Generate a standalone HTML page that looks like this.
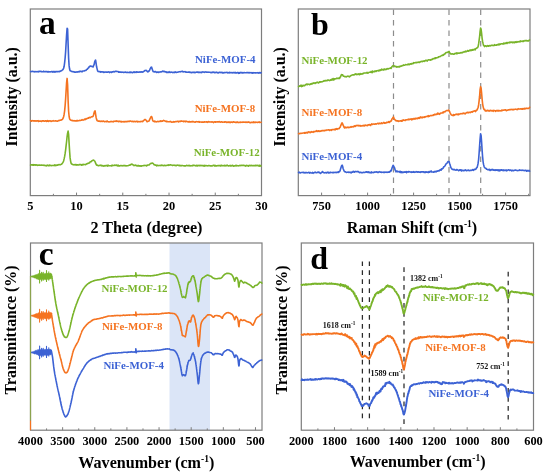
<!DOCTYPE html><html><head><meta charset="utf-8"><title>Figure</title><style>html,body{margin:0;padding:0;background:#fff;width:550px;height:475px;overflow:hidden}svg{display:block}</style></head><body><svg width="550" height="475" viewBox="0 0 550 475" font-family="'Liberation Serif', 'Times New Roman', serif" font-weight="bold">
<rect width="550" height="475" fill="#fff"/>
<rect x="169.5" y="243.0" width="40.5" height="187.2" fill="#dbe5f7"/>
<rect x="30.3" y="9" width="231.2" height="186.6" fill="none" stroke="#7d7d7d" stroke-width="1.2"/>
<rect x="298.3" y="9" width="231.7" height="186.6" fill="none" stroke="#7d7d7d" stroke-width="1.2"/>
<rect x="30.5" y="243" width="231.5" height="187.2" fill="none" stroke="#7d7d7d" stroke-width="1.2"/>
<rect x="301.3" y="243" width="232.2" height="187.2" fill="none" stroke="#7d7d7d" stroke-width="1.2"/>
<path d="M76.54,195.6 v-3.0 M122.78,195.6 v-3.0 M169.02,195.6 v-3.0 M215.26,195.6 v-3.0 M53.42,195.6 v-1.8 M99.66,195.6 v-1.8 M145.9,195.6 v-1.8 M192.14,195.6 v-1.8 M238.38,195.6 v-1.8 " stroke="#7d7d7d" stroke-width="1" fill="none"/>
<path d="M321.6,195.6 v-3.0 M367.6,195.6 v-3.0 M413.6,195.6 v-3.0 M459.6,195.6 v-3.0 M505.6,195.6 v-3.0 M344.6,195.6 v-1.8 M390.6,195.6 v-1.8 M436.6,195.6 v-1.8 M482.6,195.6 v-1.8 M528.6,195.6 v-1.8 " stroke="#7d7d7d" stroke-width="1" fill="none"/>
<path d="M62.64,430.2 v-3.0 M94.78,430.2 v-3.0 M126.92,430.2 v-3.0 M159.06,430.2 v-3.0 M191.2,430.2 v-3.0 M223.34,430.2 v-3.0 M255.48,430.2 v-3.0 M46.57,430.2 v-1.8 M78.71,430.2 v-1.8 M110.85,430.2 v-1.8 M142.99,430.2 v-1.8 M175.13,430.2 v-1.8 M207.27,430.2 v-1.8 M239.41,430.2 v-1.8 " stroke="#7d7d7d" stroke-width="1" fill="none"/>
<path d="M334.47,430.2 v-3.0 M367.64,430.2 v-3.0 M400.82,430.2 v-3.0 M433.99,430.2 v-3.0 M467.16,430.2 v-3.0 M500.33,430.2 v-3.0 M317.89,430.2 v-1.8 M351.06,430.2 v-1.8 M384.23,430.2 v-1.8 M417.4,430.2 v-1.8 M450.57,430.2 v-1.8 M483.75,430.2 v-1.8 M516.92,430.2 v-1.8 " stroke="#7d7d7d" stroke-width="1" fill="none"/>
<line x1="393.5" y1="9.6" x2="393.5" y2="195.6" stroke="#8c8c8c" stroke-width="1.2" stroke-dasharray="5.5,5"/>
<line x1="449.0" y1="9.6" x2="449.0" y2="195.6" stroke="#8c8c8c" stroke-width="1.2" stroke-dasharray="5.5,5"/>
<line x1="480.7" y1="9.6" x2="480.7" y2="195.6" stroke="#8c8c8c" stroke-width="1.2" stroke-dasharray="5.5,5"/>
<path d="M30.6,71.56 L31.1,71.64 L31.6,71.52 L32.1,71.39 L32.6,71.5 L33.1,71.39 L33.6,71.63 L34.1,71.92 L34.6,71.52 L35.1,71.5 L35.6,71.75 L36.1,71.73 L36.6,71.69 L37.1,71.47 L37.6,71.67 L38.1,71.84 L38.6,71.4 L39.1,71.6 L39.6,71.29 L40.1,71.43 L40.6,71.32 L41.1,71.68 L41.6,71.46 L42.1,71.8 L42.6,71.78 L43.1,71.71 L43.6,71.21 L44.1,71.65 L44.6,71.76 L45.1,71.8 L45.6,71.45 L46.1,71.68 L46.6,71.58 L47.1,71.62 L47.6,72.03 L48.1,71.62 L48.6,71.8 L49.1,72 L49.6,71.68 L50.1,71.78 L50.6,71.83 L51.1,71.82 L51.6,71.53 L52.1,71.81 L52.6,72.09 L53.1,71.44 L53.6,71.96 L54.1,71.79 L54.6,71.61 L55.1,72.18 L55.6,71.88 L56.1,71.42 L56.6,71.67 L57.1,71.75 L57.6,71.54 L58.1,71.68 L58.6,71.46 L59.1,71.55 L59.6,71.63 L60.1,71.06 L60.6,71.13 L61.1,70.82 L61.6,70.74 L62.1,70.17 L62.6,69.88 L63.1,69.29 L63.6,68.4 L64.1,66.54 L64.6,62.87 L65.1,58.26 L65.6,52.03 L66.1,43.27 L66.6,34.82 L67.1,28.21 L67.6,29.22 L68.1,44.09 L68.6,57.83 L69.1,65.67 L69.6,69.01 L70.1,70.66 L70.6,70.8 L71.1,71.16 L71.6,71.52 L72.1,71.58 L72.6,71.68 L73.1,71.56 L73.6,71.87 L74.1,71.83 L74.6,72.22 L75.1,72.14 L75.6,71.98 L76.1,72.12 L76.6,71.88 L77.1,72.16 L77.6,71.9 L78.1,72 L78.6,71.55 L79.1,71.87 L79.6,71.37 L80.1,71.23 L80.6,71.55 L81.1,71.35 L81.6,71.5 L82.1,71.87 L82.6,71.09 L83.1,71.02 L83.6,71.07 L84.1,71 L84.6,70.71 L85.1,70.54 L85.6,70.53 L86.1,70.23 L86.6,69.56 L87.1,69.37 L87.6,68.9 L88.1,68.09 L88.6,67.74 L89.1,66.84 L89.6,66.65 L90.1,66.1 L90.6,66 L91.1,66.04 L91.6,66.49 L92.1,66.44 L92.6,66.79 L93.1,66.89 L93.6,65.52 L94.1,64.69 L94.6,62.12 L95.1,60.78 L95.6,60.08 L96.1,63.34 L96.6,66.76 L97.1,68.89 L97.6,70.85 L98.1,71.51 L98.6,71.48 L99.1,71.61 L99.6,71.75 L100.1,71.65 L100.6,72.17 L101.1,71.85 L101.6,72 L102.1,71.86 L102.6,71.92 L103.1,71.8 L103.6,72.38 L104.1,72.08 L104.6,72.34 L105.1,72.14 L105.6,71.99 L106.1,72.08 L106.6,72.04 L107.1,72.17 L107.6,72.09 L108.1,72.11 L108.6,71.87 L109.1,72 L109.6,72.54 L110.1,72.02 L110.6,71.93 L111.1,72.22 L111.6,72.43 L112.1,71.77 L112.6,71.99 L113.1,71.83 L113.6,71.49 L114.1,71.94 L114.6,71.65 L115.1,71.56 L115.6,71.3 L116.1,71.55 L116.6,71.38 L117.1,71.57 L117.6,71.47 L118.1,71.56 L118.6,72.23 L119.1,71.9 L119.6,72.15 L120.1,72.12 L120.6,72.07 L121.1,72.08 L121.6,72.34 L122.1,72.15 L122.6,72.19 L123.1,72.23 L123.6,72.49 L124.1,72.39 L124.6,72.32 L125.1,72.12 L125.6,71.94 L126.1,72.45 L126.6,72.46 L127.1,72.22 L127.6,72.37 L128.1,72.42 L128.6,72.43 L129.1,72.45 L129.6,72.15 L130.1,72.58 L130.6,71.98 L131.1,72.44 L131.6,72.36 L132.1,72.44 L132.6,72.66 L133.1,72.57 L133.6,71.99 L134.1,71.87 L134.6,72.42 L135.1,72.02 L135.6,72.23 L136.1,72.42 L136.6,71.87 L137.1,71.76 L137.6,72.28 L138.1,72.23 L138.6,72.16 L139.1,72.21 L139.6,72.01 L140.1,71.85 L140.6,72.13 L141.1,71.94 L141.6,71.76 L142.1,72.17 L142.6,71.96 L143.1,71.92 L143.6,71.41 L144.1,71.2 L144.6,70.78 L145.1,70.44 L145.6,70.43 L146.1,70.25 L146.6,70.85 L147.1,71.23 L147.6,71.86 L148.1,71.2 L148.6,71.57 L149.1,70.96 L149.6,70.29 L150.1,68.99 L150.6,68.04 L151.1,67.33 L151.6,67.14 L152.1,68.68 L152.6,70.17 L153.1,71.51 L153.6,71.77 L154.1,71.51 L154.6,71.94 L155.1,71.71 L155.6,71.45 L156.1,72.07 L156.6,72.5 L157.1,72.22 L157.6,71.94 L158.1,71.98 L158.6,72.41 L159.1,72.16 L159.6,72.07 L160.1,71.96 L160.6,71.88 L161.1,71.92 L161.6,71.72 L162.1,71.51 L162.6,71.13 L163.1,71.45 L163.6,71.25 L164.1,71.77 L164.6,71.39 L165.1,71.79 L165.6,71.94 L166.1,71.76 L166.6,72.51 L167.1,72.51 L167.6,72.13 L168.1,72.43 L168.6,72.37 L169.1,71.72 L169.6,72.36 L170.1,72.3 L170.6,72.34 L171.1,72.08 L171.6,72.26 L172.1,72.28 L172.6,72.58 L173.1,72.39 L173.6,72.31 L174.1,72.64 L174.6,72.17 L175.1,72.18 L175.6,71.85 L176.1,72.56 L176.6,72.39 L177.1,72.33 L177.6,72.22 L178.1,72.02 L178.6,71.97 L179.1,71.78 L179.6,71.69 L180.1,71.65 L180.6,71.88 L181.1,71.6 L181.6,71.41 L182.1,71.29 L182.6,71.31 L183.1,71.86 L183.6,71.71 L184.1,71.71 L184.6,71.72 L185.1,71.64 L185.6,71.96 L186.1,72.25 L186.6,72.03 L187.1,72.13 L187.6,72.18 L188.1,72.29 L188.6,71.94 L189.1,72.27 L189.6,72.15 L190.1,72.54 L190.6,72.19 L191.1,72.49 L191.6,72.7 L192.1,72.3 L192.6,72.24 L193.1,72.41 L193.6,72.36 L194.1,72.14 L194.6,72.46 L195.1,72.79 L195.6,72.28 L196.1,72.29 L196.6,72.09 L197.1,72.38 L197.6,72.02 L198.1,72.04 L198.6,72.55 L199.1,72.05 L199.6,72.47 L200.1,72.55 L200.6,72.26 L201.1,72.31 L201.6,72.6 L202.1,72.11 L202.6,72.01 L203.1,71.84 L203.6,72.13 L204.1,72.44 L204.6,72.33 L205.1,71.91 L205.6,71.94 L206.1,72.03 L206.6,72.22 L207.1,72.12 L207.6,72.23 L208.1,72.27 L208.6,72.16 L209.1,72.24 L209.6,72.32 L210.1,72.28 L210.6,72.43 L211.1,72.76 L211.6,72.5 L212.1,72.4 L212.6,72.04 L213.1,72.51 L213.6,72.01 L214.1,72.15 L214.6,72.66 L215.1,72.64 L215.6,72.47 L216.1,72.14 L216.6,72.44 L217.1,72.39 L217.6,72.69 L218.1,73.05 L218.6,72.61 L219.1,72.4 L219.6,72.32 L220.1,72.58 L220.6,72.55 L221.1,72.35 L221.6,72.63 L222.1,72.36 L222.6,72.86 L223.1,72.85 L223.6,72.86 L224.1,72.53 L224.6,72.75 L225.1,72.61 L225.6,72.56 L226.1,72.57 L226.6,72.37 L227.1,72.34 L227.6,72.83 L228.1,72.62 L228.6,72.71 L229.1,72.89 L229.6,72.29 L230.1,72.51 L230.6,72.72 L231.1,72.77 L231.6,72.61 L232.1,72.92 L232.6,72.74 L233.1,72.43 L233.6,72.5 L234.1,72.88 L234.6,72.81 L235.1,72.3 L235.6,73.01 L236.1,72.85 L236.6,73.02 L237.1,72.64 L237.6,72.67 L238.1,72.49 L238.6,73.3 L239.1,72.7 L239.6,73.1 L240.1,72.61 L240.6,72.79 L241.1,72.39 L241.6,72.68 L242.1,72.98 L242.6,72.49 L243.1,73.01 L243.6,72.85 L244.1,72.55 L244.6,72.67 L245.1,72.68 L245.6,72.78 L246.1,72.67 L246.6,72.61 L247.1,72.73 L247.6,72.57 L248.1,72.52 L248.6,72.8 L249.1,73 L249.6,72.48 L250.1,72.82 L250.6,72.68 L251.1,72.61 L251.6,73.01 L252.1,72.72 L252.6,73.16 L253.1,72.67 L253.6,72.93 L254.1,72.79 L254.6,72.68 L255.1,72.98 L255.6,72.82 L256.1,72.99 L256.6,72.85 L257.1,72.62 L257.6,72.84 L258.1,72.88 L258.6,73.08 L259.1,72.68 L259.6,72.87 L260.1,72.5 L260.6,73.03 L261.1,72.65" stroke="#3c62d4" stroke-width="1.6" fill="none" stroke-linejoin="round" stroke-linecap="round"/>
<path d="M30.6,120.56 L31.1,120.96 L31.6,121.22 L32.1,120.65 L32.6,120.75 L33.1,120.83 L33.6,120.75 L34.1,121.09 L34.6,120.84 L35.1,120.86 L35.6,121.16 L36.1,120.87 L36.6,121.13 L37.1,120.83 L37.6,120.78 L38.1,120.65 L38.6,121.47 L39.1,121 L39.6,121.13 L40.1,121.07 L40.6,121.12 L41.1,121.1 L41.6,121.51 L42.1,120.87 L42.6,120.76 L43.1,120.88 L43.6,120.82 L44.1,121.28 L44.6,121.3 L45.1,120.91 L45.6,120.82 L46.1,121.05 L46.6,121.44 L47.1,120.51 L47.6,121.25 L48.1,120.9 L48.6,121.36 L49.1,120.9 L49.6,121.07 L50.1,120.8 L50.6,120.91 L51.1,121.43 L51.6,121.3 L52.1,121.03 L52.6,120.92 L53.1,120.68 L53.6,121 L54.1,121.07 L54.6,121.04 L55.1,121.02 L55.6,120.76 L56.1,120.96 L56.6,120.93 L57.1,121.17 L57.6,121.25 L58.1,120.75 L58.6,120.54 L59.1,120.61 L59.6,120.39 L60.1,120.25 L60.6,120.26 L61.1,119.86 L61.6,119.99 L62.1,119.51 L62.6,119.1 L63.1,118.21 L63.6,116.75 L64.1,114.47 L64.6,111.08 L65.1,105.83 L65.6,99.1 L66.1,90.86 L66.6,82.59 L67.1,78.42 L67.6,84.79 L68.1,100.21 L68.6,111.24 L69.1,116.27 L69.6,118.87 L70.1,119.71 L70.6,120.06 L71.1,120.25 L71.6,120.43 L72.1,120.42 L72.6,120.66 L73.1,120.66 L73.6,120.85 L74.1,120.6 L74.6,120.94 L75.1,120.92 L75.6,120.84 L76.1,120.75 L76.6,120.93 L77.1,120.41 L77.6,120.83 L78.1,120.73 L78.6,120.68 L79.1,120.63 L79.6,120.33 L80.1,120.34 L80.6,120.44 L81.1,120.3 L81.6,120.14 L82.1,119.66 L82.6,120.03 L83.1,120.08 L83.6,119.95 L84.1,119.67 L84.6,119.16 L85.1,119.59 L85.6,119.21 L86.1,118.53 L86.6,119 L87.1,118.39 L87.6,118.21 L88.1,118.08 L88.6,118.19 L89.1,117.47 L89.6,117.39 L90.1,117.61 L90.6,117.46 L91.1,116.95 L91.6,116.82 L92.1,116.71 L92.6,116.76 L93.1,116.29 L93.6,114.8 L94.1,112.73 L94.6,111.17 L95.1,110.87 L95.6,114.07 L96.1,117.4 L96.6,119.42 L97.1,120.58 L97.6,120.9 L98.1,120.97 L98.6,121.24 L99.1,121.03 L99.6,120.96 L100.1,121.51 L100.6,121.4 L101.1,121.5 L101.6,121.08 L102.1,121.39 L102.6,121.36 L103.1,121.31 L103.6,121.02 L104.1,121.45 L104.6,121.73 L105.1,121.62 L105.6,121.41 L106.1,121.55 L106.6,121.72 L107.1,120.95 L107.6,121.54 L108.1,121.69 L108.6,121.72 L109.1,121.95 L109.6,121.82 L110.1,121.64 L110.6,121.63 L111.1,121.73 L111.6,121.42 L112.1,121.5 L112.6,121.67 L113.1,121.86 L113.6,121.33 L114.1,121.27 L114.6,121.24 L115.1,121.41 L115.6,121.05 L116.1,121.37 L116.6,120.87 L117.1,121.12 L117.6,121.21 L118.1,121.51 L118.6,121.65 L119.1,121.15 L119.6,121.33 L120.1,121.64 L120.6,121.45 L121.1,121.28 L121.6,121.85 L122.1,121.74 L122.6,121.75 L123.1,121.54 L123.6,121.87 L124.1,121.6 L124.6,121.89 L125.1,121.44 L125.6,121.45 L126.1,121.67 L126.6,121.45 L127.1,121.72 L127.6,121.59 L128.1,121.27 L128.6,121.41 L129.1,121.22 L129.6,121.4 L130.1,120.97 L130.6,120.94 L131.1,121.28 L131.6,121.56 L132.1,121.59 L132.6,121.27 L133.1,121.4 L133.6,121.78 L134.1,121.49 L134.6,121.36 L135.1,121.64 L135.6,121.74 L136.1,121.48 L136.6,121.31 L137.1,121.37 L137.6,121.83 L138.1,121.52 L138.6,121.66 L139.1,121.73 L139.6,121.81 L140.1,121.59 L140.6,121.76 L141.1,121.43 L141.6,121.51 L142.1,121.28 L142.6,121.6 L143.1,121.08 L143.6,120.52 L144.1,120.09 L144.6,119.61 L145.1,119.65 L145.6,119.58 L146.1,120.31 L146.6,120.9 L147.1,121.78 L147.6,121.5 L148.1,121.18 L148.6,121.11 L149.1,120.93 L149.6,119.67 L150.1,118.58 L150.6,117.69 L151.1,116.5 L151.6,116.53 L152.1,117.86 L152.6,120.05 L153.1,121.08 L153.6,121.37 L154.1,121.63 L154.6,121.13 L155.1,121.77 L155.6,121.62 L156.1,121.78 L156.6,121.84 L157.1,121.62 L157.6,121.32 L158.1,121.75 L158.6,121.48 L159.1,121.52 L159.6,121.38 L160.1,121.34 L160.6,120.77 L161.1,121.39 L161.6,121.01 L162.1,121.03 L162.6,121.1 L163.1,120.64 L163.6,120.32 L164.1,120.67 L164.6,120.77 L165.1,121.1 L165.6,121.38 L166.1,121.05 L166.6,121.66 L167.1,121.33 L167.6,121.77 L168.1,121.72 L168.6,121.7 L169.1,121.77 L169.6,121.67 L170.1,121.66 L170.6,121.43 L171.1,121.79 L171.6,122.2 L172.1,122.23 L172.6,122.08 L173.1,121.93 L173.6,121.61 L174.1,122.06 L174.6,121.71 L175.1,121.69 L175.6,121.61 L176.1,121.66 L176.6,121.5 L177.1,121.54 L177.6,121.27 L178.1,121.37 L178.6,121.9 L179.1,121.33 L179.6,121.24 L180.1,121.35 L180.6,121.34 L181.1,120.91 L181.6,121.09 L182.1,121.33 L182.6,121.2 L183.1,121.2 L183.6,121.56 L184.1,121.12 L184.6,121.35 L185.1,121.28 L185.6,121.78 L186.1,121.08 L186.6,121.42 L187.1,121.5 L187.6,121.81 L188.1,121.84 L188.6,122.05 L189.1,121.43 L189.6,121.97 L190.1,121.76 L190.6,121.7 L191.1,121.99 L191.6,121.68 L192.1,121.44 L192.6,121.83 L193.1,121.59 L193.6,121.78 L194.1,122.01 L194.6,122 L195.1,122.29 L195.6,121.9 L196.1,121.61 L196.6,121.79 L197.1,121.76 L197.6,121.69 L198.1,122.06 L198.6,121.83 L199.1,121.54 L199.6,122.13 L200.1,121.95 L200.6,122.06 L201.1,122.01 L201.6,122.13 L202.1,122 L202.6,122.27 L203.1,122.09 L203.6,122.09 L204.1,122.09 L204.6,121.69 L205.1,121.97 L205.6,121.95 L206.1,122.06 L206.6,121.72 L207.1,122.38 L207.6,122.05 L208.1,121.76 L208.6,121.65 L209.1,121.97 L209.6,122.01 L210.1,121.88 L210.6,122.06 L211.1,121.9 L211.6,122.17 L212.1,121.89 L212.6,122.04 L213.1,122.27 L213.6,122.62 L214.1,121.84 L214.6,121.96 L215.1,121.88 L215.6,122.24 L216.1,121.82 L216.6,121.97 L217.1,122.07 L217.6,121.86 L218.1,121.87 L218.6,121.98 L219.1,121.62 L219.6,121.77 L220.1,122 L220.6,122.13 L221.1,122.05 L221.6,121.71 L222.1,122 L222.6,122.28 L223.1,122.23 L223.6,122.09 L224.1,121.92 L224.6,122.25 L225.1,121.99 L225.6,121.86 L226.1,121.94 L226.6,122.44 L227.1,122.17 L227.6,122.38 L228.1,122.03 L228.6,122.34 L229.1,122 L229.6,122.1 L230.1,122.69 L230.6,122.31 L231.1,122.04 L231.6,122.13 L232.1,122.22 L232.6,122.42 L233.1,122.05 L233.6,121.77 L234.1,122.1 L234.6,122.17 L235.1,122.19 L235.6,122.46 L236.1,122.24 L236.6,122.35 L237.1,121.93 L237.6,122.37 L238.1,122.64 L238.6,122.35 L239.1,122.24 L239.6,122.22 L240.1,122.58 L240.6,121.99 L241.1,122.17 L241.6,122.3 L242.1,122.36 L242.6,122.11 L243.1,122.27 L243.6,122.15 L244.1,122.24 L244.6,122.18 L245.1,121.96 L245.6,122.21 L246.1,122.41 L246.6,122.01 L247.1,122.17 L247.6,122.37 L248.1,121.99 L248.6,122.27 L249.1,122 L249.6,122.49 L250.1,122.75 L250.6,122.69 L251.1,122.2 L251.6,122.41 L252.1,122.28 L252.6,122.27 L253.1,122.59 L253.6,121.97 L254.1,122.49 L254.6,122.25 L255.1,122.57 L255.6,122.31 L256.1,122.12 L256.6,122.33 L257.1,122.44 L257.6,122.28 L258.1,122.39 L258.6,122.17 L259.1,121.81 L259.6,122.48 L260.1,122.44 L260.6,122.32 L261.1,122.31" stroke="#f57320" stroke-width="1.6" fill="none" stroke-linejoin="round" stroke-linecap="round"/>
<path d="M30.6,165.08 L31.1,164.77 L31.6,164.73 L32.1,164.86 L32.6,165.18 L33.1,164.63 L33.6,165.22 L34.1,164.83 L34.6,164.75 L35.1,165.29 L35.6,165.01 L36.1,164.76 L36.6,164.98 L37.1,165.28 L37.6,165.36 L38.1,165.02 L38.6,165.22 L39.1,165.3 L39.6,165.02 L40.1,165.26 L40.6,165.19 L41.1,165.09 L41.6,165.12 L42.1,165.25 L42.6,165.26 L43.1,165.14 L43.6,165.19 L44.1,165.54 L44.6,165.36 L45.1,165.52 L45.6,165.6 L46.1,165.48 L46.6,165.86 L47.1,165.19 L47.6,165.56 L48.1,165.32 L48.6,165.81 L49.1,165.78 L49.6,164.99 L50.1,165.21 L50.6,165.57 L51.1,165.6 L51.6,165.6 L52.1,165.42 L52.6,165.53 L53.1,165.57 L53.6,165.41 L54.1,165.64 L54.6,164.91 L55.1,165.53 L55.6,165.13 L56.1,165.53 L56.6,165.22 L57.1,165.03 L57.6,165.25 L58.1,164.9 L58.6,164.82 L59.1,164.59 L59.6,164.82 L60.1,164.8 L60.6,164.74 L61.1,164.26 L61.6,164.21 L62.1,163.55 L62.6,162.9 L63.1,162.15 L63.6,160.99 L64.1,158.93 L64.6,156.63 L65.1,153.68 L65.6,150.12 L66.1,145.7 L66.6,141.52 L67.1,136.67 L67.6,133.16 L68.1,131.07 L68.6,134.38 L69.1,143.08 L69.6,151.32 L70.1,157.89 L70.6,161.12 L71.1,163.29 L71.6,164.01 L72.1,164.1 L72.6,164.41 L73.1,164.75 L73.6,164.77 L74.1,164.85 L74.6,164.82 L75.1,164.52 L75.6,164.9 L76.1,164.49 L76.6,165.07 L77.1,164.84 L77.6,164.84 L78.1,164.94 L78.6,165.04 L79.1,164.66 L79.6,164.57 L80.1,164.69 L80.6,164.45 L81.1,164.65 L81.6,165.18 L82.1,164.55 L82.6,164.9 L83.1,164.41 L83.6,164.73 L84.1,164.52 L84.6,164.5 L85.1,164.54 L85.6,164.68 L86.1,164.19 L86.6,164.01 L87.1,163.58 L87.6,163.71 L88.1,163.29 L88.6,163.26 L89.1,162.78 L89.6,162.87 L90.1,161.72 L90.6,161.75 L91.1,161.67 L91.6,161.06 L92.1,160.64 L92.6,160.47 L93.1,160 L93.6,160.18 L94.1,160.64 L94.6,160.86 L95.1,161.77 L95.6,163.18 L96.1,164.26 L96.6,165.16 L97.1,165.07 L97.6,165.26 L98.1,165.7 L98.6,165.76 L99.1,165.53 L99.6,165.4 L100.1,165.34 L100.6,165.54 L101.1,165.21 L101.6,165.87 L102.1,165.58 L102.6,165.83 L103.1,166.14 L103.6,165.99 L104.1,165.48 L104.6,165.93 L105.1,165.99 L105.6,165.58 L106.1,165.53 L106.6,165.72 L107.1,165.39 L107.6,166.07 L108.1,165.21 L108.6,165.5 L109.1,165.68 L109.6,165.69 L110.1,165.77 L110.6,165.78 L111.1,165.66 L111.6,165.94 L112.1,165.19 L112.6,165.62 L113.1,165.41 L113.6,165.53 L114.1,165.47 L114.6,165.13 L115.1,165.11 L115.6,165.36 L116.1,165.25 L116.6,165.06 L117.1,165.73 L117.6,165.87 L118.1,165.13 L118.6,165.59 L119.1,166.14 L119.6,165.81 L120.1,165.72 L120.6,165.65 L121.1,165.59 L121.6,165.67 L122.1,165.6 L122.6,165.89 L123.1,165.64 L123.6,165.63 L124.1,165.46 L124.6,165.72 L125.1,165.53 L125.6,165.68 L126.1,165.94 L126.6,165.78 L127.1,165.79 L127.6,165.72 L128.1,165.6 L128.6,165.46 L129.1,165.28 L129.6,165.31 L130.1,164.64 L130.6,164.88 L131.1,164.35 L131.6,164.1 L132.1,164.32 L132.6,164.55 L133.1,165.02 L133.6,165.07 L134.1,165.66 L134.6,165.36 L135.1,165.1 L135.6,165.49 L136.1,165.23 L136.6,165.68 L137.1,165.93 L137.6,165.85 L138.1,165.41 L138.6,165.54 L139.1,166.1 L139.6,165.78 L140.1,165.71 L140.6,165.94 L141.1,166.24 L141.6,165.98 L142.1,165.72 L142.6,165.76 L143.1,165.81 L143.6,165.52 L144.1,165.41 L144.6,165.63 L145.1,165.39 L145.6,165.55 L146.1,165.53 L146.6,165.96 L147.1,165.17 L147.6,165.21 L148.1,165.05 L148.6,165 L149.1,164.91 L149.6,164.31 L150.1,163.94 L150.6,163.45 L151.1,163.31 L151.6,163.39 L152.1,163.15 L152.6,162.98 L153.1,163.5 L153.6,164.09 L154.1,164.66 L154.6,164.79 L155.1,165.14 L155.6,164.97 L156.1,165.22 L156.6,165.89 L157.1,165.08 L157.6,165.51 L158.1,165.64 L158.6,165.51 L159.1,165.41 L159.6,165.57 L160.1,165.58 L160.6,165.55 L161.1,165.14 L161.6,165.51 L162.1,165.33 L162.6,165.38 L163.1,165.52 L163.6,165.59 L164.1,165.62 L164.6,165.28 L165.1,165.56 L165.6,165.58 L166.1,165.54 L166.6,165.56 L167.1,165.18 L167.6,165.14 L168.1,165.33 L168.6,164.82 L169.1,165.15 L169.6,164.97 L170.1,165.01 L170.6,164.71 L171.1,164.91 L171.6,165.12 L172.1,165.35 L172.6,165.4 L173.1,165.2 L173.6,165.21 L174.1,165.1 L174.6,165.4 L175.1,165.29 L175.6,165.51 L176.1,165.79 L176.6,165.43 L177.1,165.13 L177.6,165.29 L178.1,165.18 L178.6,165.26 L179.1,165.82 L179.6,165.6 L180.1,165.23 L180.6,165.72 L181.1,165.86 L181.6,165.51 L182.1,165.44 L182.6,165.52 L183.1,165.67 L183.6,165.75 L184.1,165.87 L184.6,165.88 L185.1,165.87 L185.6,165.91 L186.1,165.76 L186.6,165.28 L187.1,165.58 L187.6,165.68 L188.1,165.53 L188.6,165.81 L189.1,165.53 L189.6,165.41 L190.1,165.93 L190.6,165.76 L191.1,165.66 L191.6,165.81 L192.1,165.84 L192.6,165.68 L193.1,165.06 L193.6,165.46 L194.1,165.5 L194.6,165.39 L195.1,165.64 L195.6,165.86 L196.1,165.49 L196.6,165.35 L197.1,166.04 L197.6,165.5 L198.1,165.32 L198.6,165.64 L199.1,165.68 L199.6,165.43 L200.1,165.76 L200.6,165.48 L201.1,165.39 L201.6,165.63 L202.1,165.76 L202.6,165.45 L203.1,165.67 L203.6,165.58 L204.1,166.22 L204.6,165.44 L205.1,165.9 L205.6,165.59 L206.1,165.57 L206.6,165.76 L207.1,165.8 L207.6,165.88 L208.1,165.68 L208.6,165.47 L209.1,165.49 L209.6,165.72 L210.1,165.74 L210.6,165.92 L211.1,165.7 L211.6,165.85 L212.1,165.95 L212.6,165.65 L213.1,165.29 L213.6,165.36 L214.1,165.3 L214.6,165.97 L215.1,165.43 L215.6,165.89 L216.1,165.75 L216.6,166 L217.1,165.84 L217.6,165.6 L218.1,165.58 L218.6,165.64 L219.1,165.66 L219.6,165.51 L220.1,165.62 L220.6,165.98 L221.1,165.25 L221.6,165.69 L222.1,165.43 L222.6,165.67 L223.1,165.82 L223.6,165.62 L224.1,165.8 L224.6,165.29 L225.1,165.88 L225.6,165.5 L226.1,165.77 L226.6,165.68 L227.1,165.07 L227.6,165.47 L228.1,165.69 L228.6,165.98 L229.1,165.71 L229.6,165.7 L230.1,165.33 L230.6,165.96 L231.1,166.04 L231.6,165.65 L232.1,165.6 L232.6,165.29 L233.1,165.84 L233.6,166.25 L234.1,165.81 L234.6,165.93 L235.1,165.77 L235.6,165.44 L236.1,165.95 L236.6,165.38 L237.1,165.61 L237.6,165.72 L238.1,165.85 L238.6,165.75 L239.1,165.75 L239.6,165.49 L240.1,165.38 L240.6,165.68 L241.1,165.51 L241.6,165.38 L242.1,165.39 L242.6,165.56 L243.1,165.26 L243.6,165.37 L244.1,165.31 L244.6,165.71 L245.1,165.76 L245.6,166.11 L246.1,165.34 L246.6,165.52 L247.1,165.87 L247.6,165.63 L248.1,165.6 L248.6,166.05 L249.1,165.6 L249.6,165.42 L250.1,165.39 L250.6,165.75 L251.1,165.75 L251.6,165.38 L252.1,165.46 L252.6,165.8 L253.1,165.81 L253.6,165.54 L254.1,165.82 L254.6,165.81 L255.1,165.29 L255.6,165.62 L256.1,165.78 L256.6,165.56 L257.1,165.22 L257.6,165.63 L258.1,165.86 L258.6,166.04 L259.1,165.21 L259.6,166.27 L260.1,165.45 L260.6,165.91 L261.1,165.97" stroke="#79b42a" stroke-width="1.6" fill="none" stroke-linejoin="round" stroke-linecap="round"/>
<path d="M298.6,86.67 L299.1,86.32 L299.6,85.82 L300.1,86.26 L300.6,85.75 L301.1,85.11 L301.6,86.61 L302.1,85.88 L302.6,86.11 L303.1,85.19 L303.6,85.8 L304.1,85.74 L304.6,85.62 L305.1,85.05 L305.6,84.59 L306.1,84.8 L306.6,84.09 L307.1,84.14 L307.6,84.58 L308.1,84.15 L308.6,84.3 L309.1,84.21 L309.6,84.72 L310.1,84.43 L310.6,83.93 L311.1,84.2 L311.6,83.5 L312.1,83.54 L312.6,83.81 L313.1,83.06 L313.6,83.25 L314.1,82.84 L314.6,83.17 L315.1,83.52 L315.6,82.7 L316.1,82.89 L316.6,82.46 L317.1,82.28 L317.6,82.15 L318.1,82.86 L318.6,83.03 L319.1,82.36 L319.6,81.9 L320.1,82.23 L320.6,81.81 L321.1,82.05 L321.6,81.8 L322.1,81.69 L322.6,81.69 L323.1,81.23 L323.6,81.18 L324.1,80.69 L324.6,80.97 L325.1,80.57 L325.6,80.85 L326.1,80.51 L326.6,80.72 L327.1,80.73 L327.6,80.06 L328.1,80.14 L328.6,80 L329.1,80.41 L329.6,80.59 L330.1,80.23 L330.6,79.77 L331.1,80.21 L331.6,79.21 L332.1,80.01 L332.6,79.26 L333.1,78.52 L333.6,80.05 L334.1,79.62 L334.6,78.73 L335.1,78.98 L335.6,78.76 L336.1,78.74 L336.6,78.16 L337.1,78.28 L337.6,78.5 L338.1,78.3 L338.6,78.45 L339.1,77.94 L339.6,78.37 L340.1,77.05 L340.6,76.72 L341.1,75.21 L341.6,74.55 L342.1,74.99 L342.6,74.73 L343.1,75.88 L343.6,76.28 L344.1,76.32 L344.6,76.65 L345.1,76.62 L345.6,76.58 L346.1,76.89 L346.6,76.78 L347.1,76.33 L347.6,76.14 L348.1,76.41 L348.6,76.2 L349.1,76.43 L349.6,76.81 L350.1,76.16 L350.6,75.77 L351.1,75.6 L351.6,75.26 L352.1,75.1 L352.6,74.91 L353.1,74.92 L353.6,74.73 L354.1,74.9 L354.6,74.37 L355.1,74.27 L355.6,73.82 L356.1,74.57 L356.6,74.16 L357.1,74.51 L357.6,74.19 L358.1,74.39 L358.6,73.86 L359.1,74.14 L359.6,74.71 L360.1,73.5 L360.6,74.17 L361.1,74.27 L361.6,73.83 L362.1,73.86 L362.6,73.93 L363.1,73.27 L363.6,73.51 L364.1,73.03 L364.6,73 L365.1,72.92 L365.6,72.98 L366.1,72.97 L366.6,72.97 L367.1,72.3 L367.6,73.25 L368.1,72.91 L368.6,72.68 L369.1,72.25 L369.6,72.24 L370.1,72.34 L370.6,72.2 L371.1,71.46 L371.6,72.11 L372.1,72.69 L372.6,71.13 L373.1,71.9 L373.6,71.61 L374.1,71.37 L374.6,71.73 L375.1,70.85 L375.6,71.17 L376.1,71.47 L376.6,70.86 L377.1,70.7 L377.6,70.77 L378.1,70.5 L378.6,71.02 L379.1,70.16 L379.6,70.61 L380.1,69.86 L380.6,70.36 L381.1,70.02 L381.6,69.16 L382.1,69.86 L382.6,69.43 L383.1,69.53 L383.6,70.04 L384.1,69.12 L384.6,69.04 L385.1,69.72 L385.6,69.21 L386.1,69.55 L386.6,69.07 L387.1,68.6 L387.6,68.74 L388.1,69.04 L388.6,68.84 L389.1,68.44 L389.6,68.33 L390.1,68.15 L390.6,67.83 L391.1,68.36 L391.6,67.37 L392.1,66.45 L392.6,65.93 L393.1,65.73 L393.6,65.66 L394.1,65.85 L394.6,66.18 L395.1,66.73 L395.6,66.36 L396.1,66.5 L396.6,67.1 L397.1,66.63 L397.6,66.81 L398.1,66.98 L398.6,66.71 L399.1,66.41 L399.6,66.96 L400.1,66.41 L400.6,65.99 L401.1,66.22 L401.6,66.02 L402.1,65.52 L402.6,65.7 L403.1,65.52 L403.6,64.86 L404.1,65.31 L404.6,65.17 L405.1,65.01 L405.6,64.53 L406.1,64.82 L406.6,64.81 L407.1,64.75 L407.6,64.26 L408.1,64.7 L408.6,64.02 L409.1,64.22 L409.6,64.58 L410.1,63.85 L410.6,63.8 L411.1,64.18 L411.6,63.62 L412.1,63.54 L412.6,63.59 L413.1,63.74 L413.6,62.63 L414.1,62.94 L414.6,62.78 L415.1,62.65 L415.6,62.61 L416.1,62.5 L416.6,62.75 L417.1,62.27 L417.6,62.47 L418.1,62.45 L418.6,61.99 L419.1,62.14 L419.6,62.5 L420.1,61.98 L420.6,61.59 L421.1,61.66 L421.6,61.29 L422.1,61.55 L422.6,61.62 L423.1,61 L423.6,61.08 L424.1,61.38 L424.6,60.78 L425.1,60.89 L425.6,60.41 L426.1,60.36 L426.6,60.35 L427.1,61.05 L427.6,60.16 L428.1,60.02 L428.6,59.9 L429.1,59.9 L429.6,60.04 L430.1,59.78 L430.6,60.23 L431.1,59.55 L431.6,59.8 L432.1,59.33 L432.6,59.3 L433.1,58.56 L433.6,58.82 L434.1,58.7 L434.6,58.5 L435.1,57.78 L435.6,58.53 L436.1,57.99 L436.6,57.8 L437.1,57.68 L437.6,57.5 L438.1,57.5 L438.6,56.79 L439.1,56.68 L439.6,56.82 L440.1,56.54 L440.6,56.13 L441.1,55.82 L441.6,55.48 L442.1,55.43 L442.6,55.52 L443.1,54.56 L443.6,55.04 L444.1,54.54 L444.6,53.85 L445.1,53.93 L445.6,52.96 L446.1,52.61 L446.6,52.48 L447.1,52.5 L447.6,52.23 L448.1,51.91 L448.6,51.87 L449.1,51.46 L449.6,52.99 L450.1,53.12 L450.6,53.81 L451.1,54.11 L451.6,53.93 L452.1,53.8 L452.6,53.88 L453.1,54.11 L453.6,54.21 L454.1,54.11 L454.6,53.55 L455.1,53.52 L455.6,53.39 L456.1,53.7 L456.6,52.85 L457.1,53.74 L457.6,53.12 L458.1,52.93 L458.6,53.16 L459.1,53.26 L459.6,52.95 L460.1,53.06 L460.6,52.68 L461.1,52.91 L461.6,52.81 L462.1,52.3 L462.6,52.65 L463.1,52.16 L463.6,52.03 L464.1,51.62 L464.6,51.71 L465.1,51.92 L465.6,51.18 L466.1,51.66 L466.6,51.46 L467.1,51.33 L467.6,50.48 L468.1,51 L468.6,51.11 L469.1,50.57 L469.6,50.71 L470.1,49.85 L470.6,50.65 L471.1,50.13 L471.6,50.46 L472.1,49.52 L472.6,50.15 L473.1,49.73 L473.6,49.9 L474.1,49.23 L474.6,49.15 L475.1,49.83 L475.6,48.7 L476.1,48.49 L476.6,48.28 L477.1,47.62 L477.6,47.64 L478.1,46.69 L478.6,43.98 L479.1,40.38 L479.6,36.55 L480.1,31.3 L480.6,27.96 L481.1,29.34 L481.6,33.27 L482.1,38.27 L482.6,41.49 L483.1,43.64 L483.6,45.46 L484.1,45.46 L484.6,46.55 L485.1,45.95 L485.6,45.74 L486.1,46.15 L486.6,46.47 L487.1,46.07 L487.6,45.54 L488.1,45.99 L488.6,46.26 L489.1,45.65 L489.6,45.52 L490.1,46.01 L490.6,45.69 L491.1,45.26 L491.6,45.42 L492.1,45.25 L492.6,45.5 L493.1,45.38 L493.6,45.63 L494.1,45.43 L494.6,44.69 L495.1,45.21 L495.6,45.29 L496.1,45.09 L496.6,45.19 L497.1,44.65 L497.6,44.46 L498.1,44.95 L498.6,44.28 L499.1,43.88 L499.6,44.76 L500.1,44.16 L500.6,44.21 L501.1,43.8 L501.6,43.74 L502.1,43.71 L502.6,43.86 L503.1,43.99 L503.6,43.09 L504.1,43.9 L504.6,43.22 L505.1,43.13 L505.6,43.54 L506.1,43.18 L506.6,42.61 L507.1,43.49 L507.6,42.55 L508.1,42.75 L508.6,42.61 L509.1,42.86 L509.6,42.2 L510.1,42.57 L510.6,41.99 L511.1,42.51 L511.6,41.93 L512.1,42.03 L512.6,42.71 L513.1,42.23 L513.6,42.16 L514.1,42.79 L514.6,42.22 L515.1,41.84 L515.6,42.28 L516.1,41.68 L516.6,42.33 L517.1,42.31 L517.6,41.73 L518.1,41.66 L518.6,41.85 L519.1,41.74 L519.6,41.38 L520.1,41.79 L520.6,40.94 L521.1,41.36 L521.6,41.3 L522.1,41.27 L522.6,41.38 L523.1,40.85 L523.6,41.33 L524.1,41.03 L524.6,40.82 L525.1,40.54 L525.6,40.53 L526.1,40.92 L526.6,40.46 L527.1,40.7 L527.6,40.93 L528.1,40.85 L528.6,40.94 L529.1,40.31 L529.6,40.01" stroke="#79b42a" stroke-width="1.6" fill="none" stroke-linejoin="round" stroke-linecap="round"/>
<path d="M298.6,133.73 L299.1,133.46 L299.6,133.65 L300.1,133.26 L300.6,133.55 L301.1,133.39 L301.6,133.3 L302.1,133.17 L302.6,133.09 L303.1,132.98 L303.6,132.92 L304.1,133.09 L304.6,132.58 L305.1,133.2 L305.6,132.59 L306.1,132.86 L306.6,132.48 L307.1,132.38 L307.6,133 L308.1,132.25 L308.6,131.9 L309.1,132.01 L309.6,132.07 L310.1,132.76 L310.6,132.11 L311.1,132.28 L311.6,131.64 L312.1,131.99 L312.6,132.02 L313.1,132.31 L313.6,131.5 L314.1,131.83 L314.6,131.69 L315.1,131.23 L315.6,131.47 L316.1,131.34 L316.6,130.67 L317.1,131.49 L317.6,131.41 L318.1,131.06 L318.6,130.73 L319.1,131.52 L319.6,131.1 L320.1,131.27 L320.6,131.33 L321.1,130.69 L321.6,131.03 L322.1,130.66 L322.6,130.66 L323.1,130.59 L323.6,130.56 L324.1,130.84 L324.6,130.48 L325.1,130.34 L325.6,130.25 L326.1,130.37 L326.6,129.94 L327.1,130 L327.6,130.08 L328.1,129.87 L328.6,129.94 L329.1,129.74 L329.6,130.46 L330.1,130.2 L330.6,129.88 L331.1,129.66 L331.6,130.28 L332.1,129.66 L332.6,129.47 L333.1,129.53 L333.6,129.46 L334.1,129.73 L334.6,129.24 L335.1,129.8 L335.6,128.84 L336.1,129.24 L336.6,128.65 L337.1,129.41 L337.6,128.68 L338.1,128.65 L338.6,128.81 L339.1,128.72 L339.6,127.68 L340.1,127.31 L340.6,125.97 L341.1,124.98 L341.6,123.44 L342.1,122.86 L342.6,123.64 L343.1,125.15 L343.6,126.21 L344.1,127.31 L344.6,127.96 L345.1,127.06 L345.6,127.64 L346.1,127.54 L346.6,127.79 L347.1,127.32 L347.6,127.51 L348.1,127.19 L348.6,127.65 L349.1,127.41 L349.6,127.26 L350.1,127.34 L350.6,127.07 L351.1,126.58 L351.6,127.12 L352.1,126.91 L352.6,126.65 L353.1,126.85 L353.6,126.77 L354.1,125.93 L354.6,125.88 L355.1,126.44 L355.6,126.29 L356.1,125.57 L356.6,125.4 L357.1,125.55 L357.6,125.61 L358.1,125.3 L358.6,125.81 L359.1,125.44 L359.6,125.46 L360.1,126.1 L360.6,125.61 L361.1,125.77 L361.6,125.94 L362.1,125.96 L362.6,125.56 L363.1,125.63 L363.6,125.31 L364.1,126.03 L364.6,125.64 L365.1,125.05 L365.6,125.32 L366.1,125.47 L366.6,125.34 L367.1,125.68 L367.6,125.48 L368.1,124.84 L368.6,124.91 L369.1,124.49 L369.6,124.89 L370.1,124.79 L370.6,125.5 L371.1,124.65 L371.6,123.93 L372.1,124.29 L372.6,124.46 L373.1,123.98 L373.6,124.03 L374.1,124.12 L374.6,124.27 L375.1,124.05 L375.6,123.76 L376.1,124.2 L376.6,123.74 L377.1,123.68 L377.6,123.35 L378.1,123.47 L378.6,123.83 L379.1,123.08 L379.6,123.48 L380.1,123.65 L380.6,123.25 L381.1,123.37 L381.6,122.9 L382.1,123.56 L382.6,123.43 L383.1,123.1 L383.6,122.43 L384.1,122.57 L384.6,123.11 L385.1,123.26 L385.6,122.76 L386.1,122.97 L386.6,122.34 L387.1,122.39 L387.6,122.36 L388.1,122.4 L388.6,121.72 L389.1,122.36 L389.6,122.35 L390.1,121.44 L390.6,121.12 L391.1,121.21 L391.6,120.2 L392.1,118.66 L392.6,118.4 L393.1,117.29 L393.6,117.14 L394.1,118.82 L394.6,119.3 L395.1,119.87 L395.6,120.64 L396.1,120.55 L396.6,120.73 L397.1,121.1 L397.6,120.8 L398.1,120.81 L398.6,121.4 L399.1,121.12 L399.6,121.05 L400.1,120.91 L400.6,120.85 L401.1,121.08 L401.6,120.58 L402.1,121.08 L402.6,120.18 L403.1,120.33 L403.6,119.93 L404.1,120.18 L404.6,120.37 L405.1,120.59 L405.6,119.89 L406.1,120.03 L406.6,119.85 L407.1,119.68 L407.6,119.48 L408.1,119.79 L408.6,119.18 L409.1,119.67 L409.6,119.58 L410.1,119.31 L410.6,119.11 L411.1,118.91 L411.6,119.8 L412.1,118.74 L412.6,119.52 L413.1,119.15 L413.6,118.77 L414.1,118.44 L414.6,119.01 L415.1,119.12 L415.6,118.23 L416.1,118.33 L416.6,118.65 L417.1,118.34 L417.6,118.75 L418.1,117.89 L418.6,118.13 L419.1,117.5 L419.6,118.42 L420.1,117.48 L420.6,116.94 L421.1,117.47 L421.6,117.38 L422.1,117.9 L422.6,117.13 L423.1,117.14 L423.6,117.22 L424.1,117.43 L424.6,116.84 L425.1,117.08 L425.6,116.82 L426.1,116.48 L426.6,116.5 L427.1,116.39 L427.6,116.01 L428.1,116.55 L428.6,115.67 L429.1,116.34 L429.6,116.17 L430.1,115.75 L430.6,115.44 L431.1,115.5 L431.6,115.59 L432.1,115.56 L432.6,115.31 L433.1,115.4 L433.6,114.8 L434.1,114.91 L434.6,114.23 L435.1,114.79 L435.6,114.45 L436.1,114.14 L436.6,114.55 L437.1,114.33 L437.6,113.19 L438.1,113.95 L438.6,113.4 L439.1,114.03 L439.6,114.32 L440.1,113.28 L440.6,113.29 L441.1,113.02 L441.6,113.02 L442.1,112.91 L442.6,112.9 L443.1,112 L443.6,112.54 L444.1,111.56 L444.6,111.7 L445.1,111.73 L445.6,111.38 L446.1,110.67 L446.6,110.56 L447.1,110.47 L447.6,110.47 L448.1,110.75 L448.6,109.98 L449.1,110.71 L449.6,111.7 L450.1,112.81 L450.6,113.75 L451.1,114.77 L451.6,114.91 L452.1,115.27 L452.6,115.24 L453.1,115.61 L453.6,114.46 L454.1,115.36 L454.6,114.84 L455.1,114.77 L455.6,114.5 L456.1,114.15 L456.6,114.53 L457.1,114.36 L457.6,114.64 L458.1,113.97 L458.6,114.76 L459.1,114.33 L459.6,114.1 L460.1,113.88 L460.6,113.77 L461.1,113.59 L461.6,113.68 L462.1,113.77 L462.6,113.63 L463.1,113.17 L463.6,113.43 L464.1,113.16 L464.6,113.39 L465.1,113.81 L465.6,113.35 L466.1,112.99 L466.6,112.5 L467.1,112.48 L467.6,112.3 L468.1,112.94 L468.6,112.4 L469.1,112.55 L469.6,112.25 L470.1,112.36 L470.6,112.65 L471.1,111.92 L471.6,111.91 L472.1,111.66 L472.6,112.04 L473.1,111.35 L473.6,111.17 L474.1,110.95 L474.6,110.77 L475.1,111.14 L475.6,111.55 L476.1,110.22 L476.6,110.52 L477.1,109.87 L477.6,108.68 L478.1,107.49 L478.6,104.97 L479.1,100.82 L479.6,96.19 L480.1,89.33 L480.6,86.68 L481.1,88.17 L481.6,93.02 L482.1,98.96 L482.6,103.77 L483.1,106.62 L483.6,108.49 L484.1,109.54 L484.6,109.24 L485.1,110.6 L485.6,111.05 L486.1,110.8 L486.6,110.9 L487.1,110.25 L487.6,110.69 L488.1,110.52 L488.6,110.61 L489.1,111.09 L489.6,110.57 L490.1,110.78 L490.6,110.25 L491.1,110.77 L491.6,110.84 L492.1,110.59 L492.6,110.58 L493.1,111.35 L493.6,110.41 L494.1,110.44 L494.6,110.5 L495.1,111.08 L495.6,111.34 L496.1,110.79 L496.6,110.46 L497.1,110.52 L497.6,110.95 L498.1,110.34 L498.6,111.03 L499.1,111 L499.6,110.57 L500.1,110.72 L500.6,110.71 L501.1,110.92 L501.6,110.1 L502.1,110.73 L502.6,110.23 L503.1,110.08 L503.6,110.3 L504.1,110.17 L504.6,109.9 L505.1,109.68 L505.6,109.84 L506.1,110.52 L506.6,110.63 L507.1,110.2 L507.6,110.32 L508.1,109.77 L508.6,109.87 L509.1,109.94 L509.6,109.49 L510.1,109.48 L510.6,109.77 L511.1,109.6 L511.6,109.34 L512.1,109.74 L512.6,109.51 L513.1,109.85 L513.6,109.51 L514.1,109.38 L514.6,109.47 L515.1,109.34 L515.6,109.15 L516.1,109.19 L516.6,109.5 L517.1,109.43 L517.6,109.58 L518.1,108.65 L518.6,109 L519.1,108.96 L519.6,109.09 L520.1,108.87 L520.6,108.81 L521.1,109.16 L521.6,108.94 L522.1,108.5 L522.6,109.21 L523.1,109.07 L523.6,108.56 L524.1,108.94 L524.6,108.43 L525.1,108.95 L525.6,108.51 L526.1,108.3 L526.6,108.39 L527.1,108.23 L527.6,108.48 L528.1,108.44 L528.6,108.4 L529.1,108.22 L529.6,107.29" stroke="#f57320" stroke-width="1.6" fill="none" stroke-linejoin="round" stroke-linecap="round"/>
<path d="M298.6,172.62 L299.1,172.02 L299.6,172.66 L300.1,172.93 L300.6,172.67 L301.1,172.47 L301.6,172.54 L302.1,172.55 L302.6,172.42 L303.1,172.41 L303.6,172.31 L304.1,172.95 L304.6,172.58 L305.1,172.88 L305.6,172.51 L306.1,172.61 L306.6,172.54 L307.1,172.73 L307.6,172.84 L308.1,172.66 L308.6,172.38 L309.1,172.35 L309.6,173.08 L310.1,172.5 L310.6,172.5 L311.1,173.03 L311.6,172.91 L312.1,172.75 L312.6,172.46 L313.1,173.29 L313.6,172.7 L314.1,172.75 L314.6,172.53 L315.1,172.16 L315.6,172.18 L316.1,172.7 L316.6,172.7 L317.1,172.51 L317.6,172.23 L318.1,172.15 L318.6,172.48 L319.1,172.14 L319.6,172.85 L320.1,172.92 L320.6,173.43 L321.1,172.84 L321.6,172.4 L322.1,172.31 L322.6,171.54 L323.1,172.39 L323.6,172.52 L324.1,172.86 L324.6,172.75 L325.1,172.74 L325.6,172.63 L326.1,172.76 L326.6,173 L327.1,172.24 L327.6,172.42 L328.1,172.14 L328.6,173.04 L329.1,172.94 L329.6,172.77 L330.1,172.18 L330.6,172.59 L331.1,172.46 L331.6,172.55 L332.1,172.47 L332.6,172.67 L333.1,172.39 L333.6,172.76 L334.1,172.56 L334.6,172.39 L335.1,172.43 L335.6,172.31 L336.1,172.66 L336.6,172.3 L337.1,172.43 L337.6,172.17 L338.1,171.77 L338.6,172.36 L339.1,171.54 L339.6,171.62 L340.1,170.73 L340.6,168.8 L341.1,167.27 L341.6,165.75 L342.1,165.15 L342.6,166.12 L343.1,168.48 L343.6,169.78 L344.1,171.06 L344.6,171.45 L345.1,172 L345.6,171.86 L346.1,172.17 L346.6,172.41 L347.1,172.29 L347.6,172.16 L348.1,171.99 L348.6,172.38 L349.1,172.43 L349.6,172.25 L350.1,172.08 L350.6,172.45 L351.1,173 L351.6,172.13 L352.1,172.26 L352.6,172.21 L353.1,171.25 L353.6,171.97 L354.1,171.64 L354.6,172.18 L355.1,171.62 L355.6,171.41 L356.1,171.57 L356.6,171.71 L357.1,171.54 L357.6,171.77 L358.1,171.46 L358.6,171.89 L359.1,172.27 L359.6,172.69 L360.1,172.37 L360.6,172.29 L361.1,172.6 L361.6,172.58 L362.1,172.8 L362.6,172.64 L363.1,172.29 L363.6,172.41 L364.1,172.39 L364.6,172.43 L365.1,172.4 L365.6,172.1 L366.1,171.71 L366.6,172.13 L367.1,171.73 L367.6,172.35 L368.1,172.33 L368.6,171.83 L369.1,172.53 L369.6,172.58 L370.1,172.35 L370.6,172.82 L371.1,172.88 L371.6,171.95 L372.1,172.62 L372.6,172.44 L373.1,172.43 L373.6,172.58 L374.1,172.08 L374.6,172.11 L375.1,172.03 L375.6,172.05 L376.1,172.24 L376.6,171.83 L377.1,171.95 L377.6,172.43 L378.1,172.23 L378.6,172.36 L379.1,171.68 L379.6,172 L380.1,172.06 L380.6,172.23 L381.1,172.04 L381.6,172.49 L382.1,172.18 L382.6,172.2 L383.1,172.19 L383.6,172.38 L384.1,172.02 L384.6,172.48 L385.1,172.27 L385.6,172.16 L386.1,172.11 L386.6,172.23 L387.1,172.35 L387.6,172.3 L388.1,172.09 L388.6,172.19 L389.1,171.89 L389.6,172.12 L390.1,171.55 L390.6,170.59 L391.1,170.99 L391.6,169.61 L392.1,167.82 L392.6,166.53 L393.1,165.22 L393.6,166.25 L394.1,167.04 L394.6,167.99 L395.1,169.96 L395.6,170.59 L396.1,171.83 L396.6,171.24 L397.1,171.04 L397.6,171.83 L398.1,171.77 L398.6,171.79 L399.1,171.3 L399.6,172.1 L400.1,172.49 L400.6,171.43 L401.1,172.37 L401.6,171.85 L402.1,172.74 L402.6,172.17 L403.1,171.98 L403.6,172.38 L404.1,172.2 L404.6,171.87 L405.1,172.26 L405.6,171.9 L406.1,171.51 L406.6,172.66 L407.1,171.94 L407.6,171.86 L408.1,172.15 L408.6,171.58 L409.1,171.64 L409.6,171.89 L410.1,171.88 L410.6,172.06 L411.1,172.37 L411.6,171.89 L412.1,172.18 L412.6,172.21 L413.1,171.7 L413.6,172.09 L414.1,171.73 L414.6,172.33 L415.1,172.15 L415.6,172.01 L416.1,171.6 L416.6,172.03 L417.1,171.76 L417.6,172.2 L418.1,171.95 L418.6,171.74 L419.1,172.25 L419.6,172.19 L420.1,171.79 L420.6,172.31 L421.1,171.87 L421.6,171.86 L422.1,171.98 L422.6,171.71 L423.1,171.8 L423.6,171.88 L424.1,172.38 L424.6,172.36 L425.1,171.83 L425.6,172.38 L426.1,171.88 L426.6,171.99 L427.1,172.14 L427.6,171.95 L428.1,172.58 L428.6,171.92 L429.1,171.47 L429.6,172.21 L430.1,171.68 L430.6,171.7 L431.1,170.88 L431.6,172.07 L432.1,172 L432.6,171.97 L433.1,172.01 L433.6,172.2 L434.1,171.66 L434.6,171.92 L435.1,171.39 L435.6,171.47 L436.1,171.84 L436.6,171.54 L437.1,170.9 L437.6,171.28 L438.1,170.98 L438.6,170.63 L439.1,170.82 L439.6,170.36 L440.1,169.78 L440.6,169.65 L441.1,170.2 L441.6,168.86 L442.1,168.98 L442.6,168.65 L443.1,168.16 L443.6,167.04 L444.1,166.71 L444.6,166.2 L445.1,165.71 L445.6,164.56 L446.1,163.68 L446.6,163.61 L447.1,162.98 L447.6,162.19 L448.1,161.46 L448.6,161.52 L449.1,161.7 L449.6,163.52 L450.1,164.84 L450.6,166.89 L451.1,167.98 L451.6,168.42 L452.1,169.23 L452.6,169.44 L453.1,169.46 L453.6,169.8 L454.1,169.33 L454.6,169.79 L455.1,169.98 L455.6,169.98 L456.1,170.25 L456.6,169.6 L457.1,169.53 L457.6,170.08 L458.1,170.17 L458.6,170.69 L459.1,170.26 L459.6,169.83 L460.1,170.35 L460.6,169.87 L461.1,169.7 L461.6,170.94 L462.1,170.27 L462.6,170.4 L463.1,170.37 L463.6,170.75 L464.1,170.3 L464.6,170.59 L465.1,169.93 L465.6,169.83 L466.1,170.68 L466.6,170.7 L467.1,170.41 L467.6,170.33 L468.1,170.31 L468.6,170.05 L469.1,170.71 L469.6,170.43 L470.1,170.37 L470.6,170.28 L471.1,170.43 L471.6,170.21 L472.1,170.21 L472.6,169.56 L473.1,169.97 L473.6,170.36 L474.1,169.42 L474.6,169.38 L475.1,169.49 L475.6,169.26 L476.1,168.82 L476.6,167.65 L477.1,167.48 L477.6,165.58 L478.1,163.21 L478.6,159.53 L479.1,153.21 L479.6,145.82 L480.1,138.78 L480.6,133.7 L481.1,135.65 L481.6,142.02 L482.1,150.09 L482.6,156.77 L483.1,161.77 L483.6,164.63 L484.1,166.5 L484.6,167.61 L485.1,167.94 L485.6,168.18 L486.1,168.46 L486.6,169.21 L487.1,169.26 L487.6,169.68 L488.1,169.8 L488.6,169.47 L489.1,169.85 L489.6,169.29 L490.1,170.46 L490.6,170.18 L491.1,169.8 L491.6,169.56 L492.1,170.05 L492.6,169.41 L493.1,169.76 L493.6,170.25 L494.1,170.07 L494.6,169.92 L495.1,170.37 L495.6,169.79 L496.1,170.2 L496.6,169.98 L497.1,169.89 L497.6,170.3 L498.1,169.88 L498.6,170.76 L499.1,170.02 L499.6,170.81 L500.1,169.89 L500.6,170.41 L501.1,169.88 L501.6,169.85 L502.1,170.31 L502.6,170.47 L503.1,169.89 L503.6,170.64 L504.1,170.05 L504.6,170.34 L505.1,170.42 L505.6,170.49 L506.1,169.78 L506.6,170.82 L507.1,170.51 L507.6,170.22 L508.1,170.04 L508.6,169.85 L509.1,169.96 L509.6,170.54 L510.1,170.28 L510.6,170.05 L511.1,170.23 L511.6,170.87 L512.1,170.3 L512.6,170.23 L513.1,170.82 L513.6,170.56 L514.1,170.44 L514.6,170.25 L515.1,169.97 L515.6,170.09 L516.1,170.31 L516.6,170.39 L517.1,170.57 L517.6,170.63 L518.1,170.54 L518.6,170.55 L519.1,170.18 L519.6,169.84 L520.1,170.34 L520.6,170.21 L521.1,170.31 L521.6,170.43 L522.1,170.14 L522.6,170.19 L523.1,170.5 L523.6,170.57 L524.1,170.34 L524.6,170.69 L525.1,170.48 L525.6,170.25 L526.1,170.57 L526.6,171.13 L527.1,170.37 L527.6,170.93 L528.1,170.99 L528.6,171.03 L529.1,170.33 L529.6,171.19" stroke="#3c62d4" stroke-width="1.6" fill="none" stroke-linejoin="round" stroke-linecap="round"/>
<path d="M30.5,352.18 L30.85,352.1 L31.2,351.96 L31.55,351.92 L31.9,351.94 L32.25,351.8 L32.6,351.72 L32.95,351.74 L33.3,351.45 L33.65,351.53 L34,351.31 L34.35,351.13 L34.7,351.04 L35.05,350.83 L35.4,350.61 L35.75,350.34 L36.1,350.64 L36.45,350.27 L36.8,350.11 L37.15,350.3 L37.5,350.44 L37.85,349.48 L38.2,350.01 L38.55,349.95 L38.9,349.37 L39.25,349.61 L39.6,349.67 L39.95,349.33 L40.3,350.07 L40.65,349.4 L41,349.74 L41.35,350.02 L41.7,349.47 L42.05,349.22 L42.4,349.93 L42.75,349.53 L43.1,349.86 L43.45,349.44 L43.8,349.46 L44.15,349.93 L44.5,349.3 L44.85,349.43 L45.2,349.36 L45.55,349.18 L45.9,349.54 L46.25,349.15 L46.6,348.98 L46.95,349.77 L47.3,348.96 L47.65,349.45 L48,349.36 L48.35,349.72 L48.7,349.13 L49.05,349.56 L49.4,348.94 L49.75,349.58 L50.1,349.29 L50.45,349.51 L50.8,349.34 L51.15,349.81 L51.15,354.28 L50.8,354.43 L50.45,354.96 L50.1,354.92 L49.75,354.61 L49.4,355 L49.05,354.92 L48.7,354.95 L48.35,355.03 L48,355.58 L47.65,355.1 L47.3,355.14 L46.95,355.54 L46.6,354.99 L46.25,355.32 L45.9,354.8 L45.55,355.18 L45.2,355.57 L44.85,355.33 L44.5,355.27 L44.15,354.91 L43.8,355.29 L43.45,355 L43.1,355.38 L42.75,355.37 L42.4,355.53 L42.05,355.55 L41.7,355.48 L41.35,355.26 L41,355.61 L40.65,354.95 L40.3,355.67 L39.95,355.5 L39.6,355.09 L39.25,355.55 L38.9,355.74 L38.55,355.56 L38.2,355.15 L37.85,354.87 L37.5,354.58 L37.15,355.06 L36.8,354.39 L36.45,354.24 L36.1,354.03 L35.75,354.1 L35.4,353.8 L35.05,354.11 L34.7,353.97 L34.35,353.93 L34,353.63 L33.65,353.52 L33.3,353.51 L32.95,353.14 L32.6,353.25 L32.25,353 L31.9,353.08 L31.55,352.92 L31.2,352.86 L30.85,352.77 L30.5,352.63 Z" fill="#3c62d4" stroke="#3c62d4" stroke-width="0.6" stroke-linejoin="round"/>
<path d="M39.6,346.1 L39.6,358.8 M41.6,348.2 L41.6,356.9 M43.2,348.2 L43.2,356.2 M46.5,346.4 L46.5,357.4 M48.8,347.8 L48.8,356 " stroke="#3c62d4" stroke-width="1.1" fill="none" stroke-linecap="round"/>
<path d="M51.2,350.7 L51.26,350.51 L51.32,351.1 L51.4,351.34 L51.49,351.72 L51.59,352.16 L51.69,352.42 L51.8,353.09 L51.91,353.55 L52.03,354.54 L52.15,354.84 L52.26,355.43 L52.38,356.13 L52.5,356.83 L52.56,357.17 L52.61,357.63 L52.67,358.13 L52.72,358.48 L52.78,359.05 L52.84,359.39 L52.89,359.88 L52.95,360.51 L53.01,360.9 L53.07,361.29 L53.12,361.84 L53.18,362.42 L53.24,363.09 L53.31,363.39 L53.37,363.93 L53.43,364.59 L53.49,364.94 L53.56,365.54 L53.63,366.19 L53.69,366.7 L53.76,367.19 L53.83,367.78 L53.9,367.96 L53.97,368.87 L54.05,369.19 L54.12,369.63 L54.2,370.33 L54.28,370.87 L54.36,371.26 L54.44,371.7 L54.53,372.31 L54.61,372.81 L54.7,373.47 L54.79,373.91 L54.88,374.36 L54.97,374.97 L55.06,375.35 L55.16,375.78 L55.25,376.44 L55.35,376.95 L55.44,377.38 L55.54,377.83 L55.63,378.44 L55.73,378.67 L55.83,379.49 L55.93,379.97 L56.02,380.25 L56.12,380.92 L56.22,381.31 L56.32,381.97 L56.41,382.17 L56.51,382.76 L56.61,383.4 L56.7,383.92 L56.81,384.11 L56.91,384.79 L57.02,385.39 L57.13,385.8 L57.24,386.53 L57.35,386.75 L57.45,387.4 L57.56,387.75 L57.67,388.49 L57.78,388.84 L57.89,389.29 L58,389.63 L58.11,390.46 L58.22,390.84 L58.33,391.33 L58.44,391.84 L58.55,392.24 L58.65,392.63 L58.76,393.09 L58.87,393.57 L58.98,394.27 L59.09,394.48 L59.19,395.05 L59.3,395.57 L59.41,396.12 L59.51,396.65 L59.62,396.98 L59.72,397.44 L59.83,398.13 L59.93,398.77 L60.04,399.24 L60.14,399.71 L60.24,400.18 L60.35,400.76 L60.45,401.22 L60.56,401.84 L60.66,402.19 L60.76,402.79 L60.87,403.27 L60.97,403.83 L61.07,404.29 L61.18,405 L61.28,405.37 L61.38,405.83 L61.49,405.92 L61.59,406.53 L61.7,406.93 L61.8,407.45 L61.96,407.77 L62.12,408.71 L62.28,409.28 L62.44,409.6 L62.61,410.19 L62.77,410.74 L62.94,411.34 L63.1,411.9 L63.26,412.51 L63.42,412.75 L63.58,413.28 L63.73,413.63 L63.88,414.18 L64.03,414.44 L64.17,414.83 L64.3,414.89 L64.76,415.96 L65.15,416.51 L65.54,416.98 L66,416.77 L66.24,416.49 L66.5,416.23 L66.77,416 L67.05,415.49 L67.34,415 L67.63,414.6 L67.92,414.19 L68.21,413.23 L68.5,412.44 L68.63,412.01 L68.76,411.6 L68.89,411.37 L69.02,410.97 L69.15,410.43 L69.28,409.99 L69.41,409.48 L69.54,408.98 L69.67,408.3 L69.8,407.88 L69.93,407.4 L70.06,406.77 L70.19,406.25 L70.32,405.66 L70.45,405.15 L70.58,404.71 L70.71,404.02 L70.84,403.49 L70.97,403.03 L71.1,402.46 L71.21,402.11 L71.31,401.26 L71.41,401.08 L71.51,400.46 L71.61,400.04 L71.71,399.61 L71.81,399.14 L71.91,398.63 L72.01,398.04 L72.1,397.68 L72.2,396.98 L72.3,396.49 L72.4,396.07 L72.5,395.43 L72.6,395.19 L72.7,394.57 L72.81,394.19 L72.91,393.47 L73.02,392.94 L73.13,392.5 L73.25,392.08 L73.36,391.47 L73.48,391.1 L73.6,390.6 L73.74,390.24 L73.89,389.49 L74.04,389.14 L74.19,388.46 L74.35,387.91 L74.51,387.42 L74.67,386.87 L74.83,386.49 L75,386.08 L75.17,385.5 L75.33,385.06 L75.5,384.67 L75.67,384.06 L75.84,383.58 L76.01,383.07 L76.18,382.48 L76.35,382.27 L76.51,381.58 L76.68,381.39 L76.84,380.91 L77,380.61 L77.22,379.94 L77.44,379.34 L77.66,378.95 L77.88,378.37 L78.1,377.94 L78.32,377.5 L78.54,377.04 L78.76,376.6 L78.98,376.11 L79.2,375.76 L79.42,375.15 L79.64,374.93 L79.86,374.42 L80.08,374.23 L80.3,373.83 L80.56,373.02 L80.82,372.75 L81.08,372.25 L81.34,371.68 L81.6,371.38 L81.86,370.82 L82.13,370.23 L82.39,369.94 L82.65,369.5 L82.91,369.09 L83.18,368.53 L83.44,368.28 L83.7,367.87 L83.98,367.23 L84.26,366.83 L84.53,366.44 L84.8,365.95 L85.08,365.75 L85.35,365.16 L85.63,364.62 L85.91,364.24 L86.19,363.91 L86.49,363.76 L86.79,363.14 L87.1,362.81 L87.49,362.44 L87.89,361.99 L88.3,361.84 L88.72,361.19 L89.15,360.97 L89.58,360.58 L90.01,360.31 L90.45,359.83 L90.88,359.84 L91.3,359.39 L91.76,359.14 L92.22,358.81 L92.67,358.63 L93.12,358.58 L93.57,358.46 L94.03,358.28 L94.51,358.17 L94.99,357.95 L95.5,357.7 L95.97,357.61 L96.46,357.42 L96.97,357.18 L97.48,357.09 L98,356.98 L98.52,356.7 L99.05,356.47 L99.57,356.41 L100.09,356.36 L100.6,355.98 L101.11,355.82 L101.62,355.63 L102.13,355.58 L102.64,355.09 L103.14,355.13 L103.65,355.03 L104.15,354.66 L104.64,354.73 L105.12,354.49 L105.6,354.25 L106.14,354.18 L106.6,353.88 L107.03,353.88 L107.46,354.03 L107.94,353.67 L108.49,353.86 L109.17,353.59 L110,353.6 L110.39,353.46 L110.8,353.2 L111.24,353.32 L111.71,353.36 L112.2,353.18 L112.7,353.12 L113.23,353.25 L113.77,353.11 L114.32,352.96 L114.88,353.03 L115.44,353.14 L116.01,352.97 L116.58,353.07 L117.15,353.09 L117.72,352.9 L118.28,352.74 L118.83,352.68 L119.37,352.77 L119.89,352.83 L120.4,352.73 L120.93,352.71 L121.47,352.58 L122.01,352.61 L122.55,352.49 L123.09,352.47 L123.64,352.33 L124.18,352.26 L124.72,352.33 L125.25,352.23 L125.78,352.2 L126.3,352.33 L126.81,352.21 L127.31,352.48 L127.8,352.25 L128.28,352.06 L128.73,352.16 L129.17,352.09 L129.6,351.96 L130,352.11 L130.73,351.89 L131.41,351.65 L132.06,352.04 L132.66,351.91 L133.22,352.14 L133.73,351.92 L134.2,351.85 L134.62,352.07 L134.98,351.73 L135.3,351.72 L135.71,351.32 L135.85,350.41 L135.83,349.58 L135.78,348.99 L135.8,348.88 L135.86,348.92 L135.93,349.5 L135.99,350.08 L136.05,350.93 L136.11,351.34 L136.18,351.91 L136.24,352.58 L136.3,352.76 L135.94,352.52 L136.8,351.61 L137.09,351.67 L137.42,351.45 L137.79,351.47 L138.2,351.19 L138.64,351.32 L139.12,351.54 L139.61,351.29 L140.13,351.26 L140.67,351.18 L141.23,351.33 L141.8,351.27 L142.38,351.11 L142.97,351.27 L143.56,351.2 L144.15,351.23 L144.74,351.06 L145.32,351.27 L145.9,351.11 L146.46,351.02 L147,350.95 L147.49,350.94 L148,351.02 L148.52,350.88 L149.05,350.98 L149.59,350.89 L150.13,350.94 L150.68,350.85 L151.23,350.73 L151.78,350.51 L152.33,350.69 L152.87,350.7 L153.42,350.6 L153.95,350.61 L154.48,350.47 L155,350.44 L155.51,350.34 L156,350.54 L156.48,350.38 L156.94,350.27 L157.38,350.15 L157.8,350.23 L158.2,350.34 L158.93,350.16 L159.59,349.95 L160.18,350.07 L160.73,349.96 L161.23,349.82 L161.7,349.7 L162.15,349.64 L162.6,349.48 L163.05,349.42 L163.51,349.19 L164,349.35 L164.57,349.16 L165.17,349.28 L165.77,348.83 L166.38,349.06 L166.97,349.05 L167.54,348.89 L168.06,348.95 L168.54,348.97 L168.96,348.95 L169.3,348.85 L169.72,349.1 L170,349.6 L170.37,349.72 L170.84,349.68 L171.39,349.76 L171.98,349.86 L172.59,350.05 L173.18,349.98 L173.73,350.13 L174.2,350.51 L174.6,350.67 L174.97,351.04 L175.31,351.46 L175.63,351.89 L175.93,352.15 L176.22,352.79 L176.51,353.01 L176.8,353.75 L177.01,353.93 L177.22,354.37 L177.42,354.98 L177.62,355.31 L177.82,355.72 L178.01,356.23 L178.19,356.81 L178.38,357.26 L178.56,357.79 L178.73,358.44 L178.9,358.83 L179.02,359.28 L179.14,359.73 L179.26,360.37 L179.38,360.84 L179.49,361.37 L179.6,361.75 L179.71,362.26 L179.82,362.88 L179.92,363.27 L180.02,363.92 L180.12,364.42 L180.22,364.79 L180.32,365.34 L180.41,365.82 L180.5,366.47 L180.61,367.13 L180.72,367.44 L180.82,368.03 L180.91,368.37 L181.01,369.23 L181.1,369.71 L181.19,369.87 L181.27,371.05 L181.36,370.72 L181.44,371.67 L181.52,372.24 L181.6,372.16 L181.74,373.66 L181.87,374.43 L181.99,374.18 L182.11,374.67 L182.24,375.76 L182.4,375.79 L182.79,375.26 L183.23,375 L183.7,374.66 L184.23,374.88 L184.8,375.65 L185.3,375.43 L185.47,375.64 L185.63,375.11 L185.77,374.39 L185.9,373.97 L186.02,373.44 L186.16,372.55 L186.3,371.17 L186.39,371.46 L186.48,370.7 L186.57,370.71 L186.66,369.63 L186.76,369.21 L186.85,368.57 L186.94,368.46 L187.04,367.37 L187.13,366.66 L187.22,366.34 L187.31,365.59 L187.4,365.36 L187.55,364.61 L187.69,364.07 L187.83,364.07 L187.97,362.73 L188.11,362.4 L188.25,361.9 L188.4,361.84 L188.76,360.62 L189.14,360.52 L189.5,360.49 L190,360.35 L190.5,359.48 L190.65,358.93 L190.8,358.3 L190.95,358.22 L191.11,357.96 L191.27,356.97 L191.43,356.36 L191.6,355.96 L191.85,354.8 L192.11,354.32 L192.37,353.72 L192.64,353.47 L192.9,353.19 L193.16,352.88 L193.41,354.03 L193.66,354.76 L193.92,354.8 L194.2,355.94 L194.3,356.24 L194.4,356.8 L194.5,356.41 L194.61,357.91 L194.72,357.63 L194.83,358.71 L194.94,358.78 L195.05,359.13 L195.16,359.74 L195.27,360.64 L195.38,360.58 L195.49,361.31 L195.59,361.85 L195.7,362.01 L195.8,363.66 L195.87,363.84 L195.94,364.07 L196.01,364.66 L196.08,364.92 L196.15,365.49 L196.22,366.16 L196.29,366.59 L196.36,366.77 L196.42,367.18 L196.49,367.92 L196.56,368.65 L196.62,369.03 L196.69,369.58 L196.76,370.18 L196.82,370.56 L196.88,371.19 L196.95,371.76 L197.01,372.25 L197.08,372.75 L197.14,373.15 L197.2,373.75 L197.26,374.19 L197.33,374.94 L197.39,375.67 L197.45,375.96 L197.52,376.46 L197.58,377.29 L197.64,378.03 L197.7,378.75 L197.76,379.4 L197.82,379.84 L197.88,380.44 L197.94,381.22 L198,381.52 L198.05,382.22 L198.11,382.52 L198.17,383 L198.23,383.3 L198.28,383.55 L198.34,383.71 L198.4,383.6 L198.46,383.7 L198.53,383.54 L198.59,383.35 L198.65,383.13 L198.72,382.59 L198.78,382.09 L198.84,381.58 L198.9,381.05 L198.96,380.56 L199.02,379.76 L199.08,379.3 L199.14,378.54 L199.2,377.82 L199.26,377.03 L199.32,376.53 L199.38,375.94 L199.44,375.09 L199.5,374.82 L199.55,374.39 L199.6,373.78 L199.65,373.29 L199.7,372.97 L199.74,372.34 L199.79,371.6 L199.84,371.15 L199.88,370.61 L199.93,370.07 L199.98,369.31 L200.02,369.09 L200.07,368.42 L200.12,367.98 L200.16,367.43 L200.21,367.02 L200.26,366.41 L200.3,365.88 L200.35,365.55 L200.4,365.18 L200.45,364.58 L200.5,364.34 L200.58,363.55 L200.67,362.82 L200.74,362.42 L200.82,361.61 L200.9,361.25 L200.98,360.58 L201.07,360.17 L201.16,359.53 L201.25,359.11 L201.36,358.86 L201.47,358.34 L201.6,357.9 L201.81,357.26 L202.04,356.79 L202.29,356.1 L202.56,355.66 L202.83,355.32 L203.12,354.85 L203.41,354.48 L203.7,354.19 L204.11,353.76 L204.56,353.37 L205.03,353.24 L205.48,352.9 L205.91,352.7 L206.3,352.4 L206.89,352.18 L207.38,352.1 L208,352.27 L208.51,352.1 L209.09,352.25 L209.71,352.41 L210.33,352.58 L210.9,352.7 L211.35,352.8 L211.8,353.34 L212.24,353.66 L212.66,354.26 L213.05,354.51 L213.4,354.79 L213.92,354.75 L214.33,354.01 L214.9,353.73 L215.39,353.46 L215.95,353.43 L216.57,353.66 L217.19,353.79 L217.8,353.64 L218.31,353.77 L218.85,353.68 L219.39,353.88 L219.91,354.07 L220.39,354.08 L220.8,354.14 L221.38,354.5 L221.79,355.17 L222.2,355.28 L222.42,355 L222.6,354.53 L222.79,353.84 L223.02,353.56 L223.31,352.8 L223.7,352.29 L224.03,352.06 L224.41,351.42 L224.84,351.28 L225.3,350.93 L225.77,350.65 L226.25,350.46 L226.72,350.13 L227.18,349.72 L227.6,349.77 L228.13,349.83 L228.66,349.97 L229.19,350.06 L229.7,350.32 L230.18,350.85 L230.62,351.11 L231,351.3 L231.64,351.41 L232.07,351.98 L232.5,352.01 L232.72,352.64 L232.95,353.35 L233.18,353.66 L233.41,354.25 L233.63,354.66 L233.83,355.41 L234,355.57 L234.28,356.6 L234.47,357.28 L234.7,357.39 L234.88,357.35 L235.08,356.6 L235.29,356.05 L235.5,355.54 L235.7,355.16 L236.19,355.17 L236.7,355.79 L236.89,355.96 L237.09,356.27 L237.3,356.67 L237.51,357.17 L237.71,357.91 L237.9,358.58 L237.98,359.06 L238.06,359.52 L238.13,360.03 L238.21,360.85 L238.28,361.33 L238.36,362.13 L238.43,362.97 L238.5,363.38 L238.57,364.11 L238.64,364.53 L238.71,365.13 L238.77,365.43 L238.84,365.82 L238.9,365.95 L238.98,365.98 L239.05,365.84 L239.11,365.24 L239.17,364.66 L239.23,363.88 L239.29,363.11 L239.36,362.29 L239.43,361.49 L239.51,361.07 L239.6,360.76 L239.88,359.84 L240.21,359.15 L240.55,358.97 L240.9,358.56 L241.34,358.65 L241.79,359.03 L242.3,359.5 L242.73,359.81 L243.2,360.27 L243.72,360.29 L244.3,360.5 L244.74,360.76 L245.23,361.03 L245.74,361.12 L246.27,361.56 L246.79,361.89 L247.3,362.13 L247.79,362.44 L248.29,362.52 L248.78,362.76 L249.27,363.36 L249.74,363.7 L250.2,363.85 L250.54,364.42 L250.88,364.89 L251.22,365.49 L251.54,366.01 L251.86,366.47 L252.16,366.99 L252.44,367.33 L252.7,367.5 L253.11,367.2 L253.43,366.54 L253.73,366.04 L254.1,365.34 L254.45,365.15 L254.81,364.83 L255.21,364.42 L255.63,363.98 L256.1,363.61 L256.47,363.38 L256.87,362.82 L257.29,362.59 L257.72,362.18 L258.15,361.76 L258.58,361.53 L259,361.03 L259.5,360.92 L260.04,360.5 L260.58,360.32 L261.08,360.13 L261.5,360.15 L261.8,360" stroke="#3c62d4" stroke-width="1.6" fill="none" stroke-linejoin="round" stroke-linecap="round"/>
<path d="M30.5,315.47 L30.85,315.4 L31.2,315.26 L31.55,315.3 L31.9,315.14 L32.25,315.04 L32.6,315.09 L32.95,315.06 L33.3,314.89 L33.65,314.64 L34,314.54 L34.35,314.59 L34.7,314.34 L35.05,314.09 L35.4,314.1 L35.75,313.84 L36.1,313.48 L36.45,313.55 L36.8,313.64 L37.15,313.69 L37.5,313.45 L37.85,313.19 L38.2,312.77 L38.55,312.83 L38.9,313.21 L39.25,312.58 L39.6,312.97 L39.95,312.71 L40.3,313.29 L40.65,313.3 L41,313.21 L41.35,312.55 L41.7,312.76 L42.05,312.6 L42.4,312.81 L42.75,313.04 L43.1,312.94 L43.45,312.88 L43.8,312.63 L44.15,313.02 L44.5,312.54 L44.85,312.77 L45.2,312.51 L45.55,312.81 L45.9,312.57 L46.25,312.89 L46.6,312.66 L46.95,312.95 L47.3,313.07 L47.65,313.14 L48,312.42 L48.35,312.69 L48.7,312.21 L49.05,312.28 L49.4,312.76 L49.75,312.13 L50.1,312.55 L50.45,312.41 L50.8,312.83 L51.15,313.08 L51.5,313.14 L51.5,317.25 L51.15,317.32 L50.8,317.88 L50.45,318.38 L50.1,317.8 L49.75,318.55 L49.4,318.66 L49.05,318.74 L48.7,318.56 L48.35,318.4 L48,318.17 L47.65,318.08 L47.3,318.83 L46.95,318.65 L46.6,318.29 L46.25,318.14 L45.9,319.06 L45.55,319.01 L45.2,318.37 L44.85,318.71 L44.5,318.39 L44.15,318.53 L43.8,318.3 L43.45,318.25 L43.1,318.12 L42.75,318.67 L42.4,318.52 L42.05,318.56 L41.7,318.21 L41.35,318.51 L41,318.66 L40.65,319.25 L40.3,318.27 L39.95,318.33 L39.6,319.04 L39.25,318.13 L38.9,318.37 L38.55,318.03 L38.2,318.73 L37.85,318.76 L37.5,318.03 L37.15,317.68 L36.8,317.95 L36.45,317.9 L36.1,317.43 L35.75,317.78 L35.4,317.37 L35.05,317.31 L34.7,317.17 L34.35,317.12 L34,317.07 L33.65,316.77 L33.3,316.69 L32.95,316.53 L32.6,316.44 L32.25,316.28 L31.9,316.36 L31.55,316.12 L31.2,316.06 L30.85,316.05 L30.5,315.93 Z" fill="#f57320" stroke="#f57320" stroke-width="0.6" stroke-linejoin="round"/>
<path d="M39.6,309.4 L39.6,322.1 M41.6,311.5 L41.6,320.2 M43.2,311.5 L43.2,319.5 M46.5,309.7 L46.5,320.7 M48.8,311.1 L48.8,319.3 " stroke="#f57320" stroke-width="1.1" fill="none" stroke-linecap="round"/>
<path d="M51.5,313.32 L51.53,313.53 L51.57,313.87 L51.61,314.03 L51.66,314.88 L51.71,315.29 L51.78,315.69 L51.86,316.41 L51.95,317.06 L52.07,317.76 L52.2,318.8 L52.26,319.04 L52.32,319.44 L52.39,319.83 L52.46,320.4 L52.54,320.83 L52.62,321.39 L52.7,321.79 L52.79,322.39 L52.88,322.83 L52.97,323.56 L53.06,324.05 L53.16,324.64 L53.25,325.22 L53.35,325.65 L53.44,326.4 L53.54,327.1 L53.63,327.29 L53.73,327.84 L53.82,328.41 L53.91,329.17 L54,329.62 L54.09,330.22 L54.17,330.67 L54.25,331.07 L54.33,331.52 L54.4,331.88 L54.52,332.64 L54.63,333.04 L54.73,333.65 L54.82,334.22 L54.91,334.85 L55,335.04 L55.09,335.43 L55.17,335.9 L55.26,336.47 L55.35,336.77 L55.45,337.37 L55.55,337.51 L55.66,338.3 L55.77,338.82 L55.9,339.16 L55.99,339.74 L56.09,340.28 L56.19,340.62 L56.29,341.17 L56.4,341.78 L56.51,342.05 L56.62,342.49 L56.73,342.94 L56.85,343.58 L56.96,344.01 L57.08,344.53 L57.2,345.05 L57.32,345.64 L57.44,345.99 L57.56,346.46 L57.68,346.88 L57.81,347.76 L57.93,348.15 L58.05,348.8 L58.17,349.14 L58.28,349.55 L58.4,350.15 L58.53,350.61 L58.66,351.01 L58.79,351.56 L58.92,352.34 L59.06,352.72 L59.19,353.24 L59.33,353.68 L59.46,354.15 L59.6,354.81 L59.73,355.21 L59.87,355.65 L60,356.21 L60.13,356.62 L60.26,357.22 L60.39,357.79 L60.52,358.07 L60.64,358.77 L60.76,359.02 L60.88,359.56 L61,359.92 L61.14,360.54 L61.28,361.12 L61.42,361.63 L61.55,362.16 L61.68,362.71 L61.81,363.24 L61.94,363.7 L62.06,364.35 L62.18,364.93 L62.31,365.48 L62.42,365.94 L62.54,366.59 L62.66,366.82 L62.77,367.17 L62.89,367.81 L63,367.9 L63.22,368.79 L63.43,369.21 L63.64,369.89 L63.84,370.13 L64.03,370.85 L64.22,371.12 L64.41,371.39 L64.6,371.97 L65.08,372.52 L65.54,372.8 L66,372.83 L66.46,372.81 L66.92,372.47 L67.4,371.87 L67.57,371.56 L67.73,371.06 L67.9,370.69 L68.07,370.26 L68.24,369.71 L68.42,369.27 L68.61,368.76 L68.8,368.23 L69,367.63 L69.12,367.02 L69.24,366.74 L69.36,366.2 L69.48,366 L69.61,365.32 L69.73,364.88 L69.86,364.24 L69.99,363.74 L70.13,363.32 L70.26,362.73 L70.4,362.26 L70.54,361.53 L70.67,361.21 L70.81,360.5 L70.96,360.22 L71.1,359.47 L71.22,359.14 L71.34,358.42 L71.46,358.11 L71.58,357.48 L71.71,357.01 L71.83,356.55 L71.95,355.99 L72.08,355.53 L72.2,355.05 L72.33,354.52 L72.46,353.93 L72.6,353.29 L72.73,352.84 L72.87,352.4 L73.01,351.71 L73.15,351.52 L73.3,350.96 L73.45,350.51 L73.6,350.19 L73.8,349.63 L74.02,349.07 L74.25,348.43 L74.49,348.06 L74.73,347.58 L74.98,346.98 L75.23,346.71 L75.47,346.2 L75.72,345.52 L75.96,345.3 L76.19,344.75 L76.41,344.6 L76.62,344.19 L76.82,343.63 L77,343.31 L77.31,342.81 L77.55,342.34 L77.74,342.19 L77.92,341.79 L78.12,341.3 L78.37,340.84 L78.7,339.8 L78.84,339.69 L78.99,339.36 L79.14,338.84 L79.3,338.35 L79.47,338.01 L79.64,337.66 L79.82,336.97 L80,336.32 L80.18,336.04 L80.38,335.17 L80.57,334.86 L80.77,334.21 L80.97,333.83 L81.17,333.12 L81.37,332.82 L81.58,332.21 L81.78,331.53 L81.99,331.04 L82.19,330.77 L82.4,330.53 L82.69,329.87 L82.99,329.36 L83.29,328.84 L83.59,328.47 L83.89,328 L84.2,327.56 L84.51,327.03 L84.83,326.85 L85.16,326.48 L85.49,325.84 L85.83,325.83 L86.18,325.3 L86.53,324.82 L86.9,324.31 L87.28,324.2 L87.67,323.82 L88.07,323.34 L88.48,322.87 L88.9,322.81 L89.33,322.29 L89.76,321.97 L90.2,321.98 L90.64,321.6 L91.07,321.19 L91.51,320.77 L91.94,320.62 L92.38,320.09 L92.8,320.11 L93.29,319.8 L93.78,319.57 L94.28,319.38 L94.77,319.47 L95.26,319.32 L95.76,319.23 L96.25,319.22 L96.74,318.98 L97.23,318.86 L97.72,318.73 L98.21,318.78 L98.7,318.78 L99.23,318.55 L99.76,318.49 L100.3,318.17 L100.83,318.1 L101.36,317.93 L101.89,317.74 L102.42,317.91 L102.94,317.68 L103.47,317.38 L103.98,317.25 L104.5,317.19 L104.99,316.93 L105.45,317 L105.89,316.7 L106.32,316.68 L106.74,316.49 L107.19,316.43 L107.65,316.24 L108.15,316.11 L108.71,316.07 L109.32,316.01 L110,315.97 L110.41,315.97 L110.85,316.07 L111.3,315.97 L111.78,315.83 L112.27,315.9 L112.79,315.73 L113.31,315.92 L113.85,315.8 L114.39,315.59 L114.94,315.78 L115.5,315.77 L116.06,315.4 L116.62,315.57 L117.18,315.58 L117.74,315.42 L118.29,315.48 L118.84,315.47 L119.37,315.6 L119.89,315.55 L120.4,315.76 L120.93,315.43 L121.47,315.56 L122.01,315.43 L122.55,315.42 L123.09,315.24 L123.64,315.14 L124.18,315.23 L124.72,315.35 L125.25,315.4 L125.78,315.28 L126.3,315.24 L126.81,315.08 L127.31,315.29 L127.8,315.24 L128.28,315.03 L128.73,315.06 L129.17,314.94 L129.6,315.17 L130,315.04 L130.73,314.97 L131.41,315.02 L132.06,315.04 L132.66,314.97 L133.22,314.91 L133.73,314.91 L134.2,314.85 L134.62,315.03 L134.98,315.14 L135.3,314.63 L135.71,314.35 L135.85,313.67 L135.83,312.8 L135.78,312.37 L135.8,312.09 L135.87,312.57 L135.94,312.91 L136.01,313.66 L136.09,314.47 L136.16,315.06 L136.23,315.49 L136.3,315.95 L135.94,315.63 L136.8,314.59 L137.09,314.58 L137.42,314.42 L137.79,314.51 L138.2,314.54 L138.64,314.45 L139.12,314.62 L139.61,314.39 L140.13,314.3 L140.67,314.23 L141.23,314.5 L141.8,314.37 L142.38,314.47 L142.97,314.41 L143.56,314.52 L144.15,314.48 L144.74,314.3 L145.32,314.36 L145.9,314.43 L146.46,314.19 L147,314.45 L147.49,314.41 L148,314.37 L148.52,314.24 L149.05,314.28 L149.59,314.13 L150.13,314.24 L150.68,314.16 L151.23,314.22 L151.78,314.15 L152.33,314.22 L152.87,314.3 L153.42,314.04 L153.95,314.25 L154.48,313.95 L155,313.92 L155.51,314.11 L156,314.1 L156.48,314.13 L156.94,313.9 L157.38,314.04 L157.8,314.04 L158.2,314.13 L158.93,313.93 L159.59,313.93 L160.18,313.7 L160.73,313.7 L161.23,313.59 L161.7,313.62 L162.15,313.37 L162.6,313.3 L163.05,313.37 L163.51,313.43 L164,313.24 L164.57,313.18 L165.17,313.08 L165.77,313.19 L166.38,313.11 L166.97,313.21 L167.54,313.06 L168.06,312.92 L168.54,312.95 L168.96,312.9 L169.3,312.87 L169.72,313.18 L170,313.28 L170.37,313.11 L170.84,313.44 L171.39,313.32 L171.98,313.24 L172.59,313.42 L173.18,313.45 L173.73,313.48 L174.2,313.51 L174.73,313.94 L175.2,314.23 L175.63,314.26 L176.03,314.94 L176.41,315.37 L176.8,315.75 L177.06,316.18 L177.31,316.54 L177.56,316.92 L177.8,317.43 L178.03,318.08 L178.26,318.3 L178.48,318.98 L178.69,319.49 L178.9,319.93 L179.07,320.39 L179.23,320.74 L179.39,321.25 L179.54,321.81 L179.69,322.31 L179.83,322.67 L179.98,323.56 L180.11,323.7 L180.25,324.27 L180.38,324.75 L180.5,325.26 L180.61,325.93 L180.72,326.27 L180.82,327 L180.91,327.54 L181.01,327.62 L181.1,328.91 L181.19,328.88 L181.27,330.61 L181.36,330.05 L181.44,330.36 L181.52,330.49 L181.6,331.15 L181.73,332.09 L181.84,332.58 L181.94,333.08 L182.04,333.8 L182.14,334.44 L182.26,335.44 L182.4,334.7 L182.79,335.67 L183.23,335.78 L183.7,335.77 L184.23,336.21 L184.8,336.6 L185.3,336.85 L185.42,336.25 L185.54,335.77 L185.64,335.74 L185.74,335.14 L185.83,334.43 L185.92,334.08 L186.01,333.07 L186.1,332.99 L186.2,332.34 L186.3,331.46 L186.39,330.68 L186.48,331.12 L186.57,330.08 L186.66,330.55 L186.76,328.68 L186.85,328.64 L186.94,327.62 L187.04,327.31 L187.13,326.98 L187.22,325.91 L187.31,325.69 L187.4,325.36 L187.57,324.6 L187.74,324.13 L187.9,323.73 L188.06,323.19 L188.23,322.57 L188.4,321.98 L188.76,321.1 L189.14,320.87 L189.5,320.82 L190,321.98 L190.5,321.97 L190.63,321.38 L190.76,321.6 L190.9,320.56 L191.03,319.96 L191.17,319.51 L191.31,319.13 L191.45,317.54 L191.6,317.51 L191.85,317.27 L192.11,316.42 L192.37,315.67 L192.64,315.34 L192.9,315.78 L193.32,315.12 L193.74,315.96 L194.2,317.08 L194.3,316.96 L194.4,317.63 L194.5,317.71 L194.61,318.08 L194.72,318.36 L194.83,319.54 L194.94,319.6 L195.05,320.07 L195.16,320.41 L195.27,321.99 L195.38,322.18 L195.49,322.44 L195.59,322.82 L195.7,323.1 L195.8,324.3 L195.88,324.75 L195.96,324.6 L196.03,325.67 L196.11,326.09 L196.19,326.37 L196.26,326.88 L196.34,327.37 L196.41,327.91 L196.49,328.36 L196.56,328.71 L196.63,329.52 L196.71,329.91 L196.78,330.53 L196.85,331.05 L196.92,331.44 L196.99,332.04 L197.06,332.63 L197.13,333.2 L197.2,333.68 L197.25,334.1 L197.3,334.66 L197.35,335.11 L197.4,335.69 L197.45,336.12 L197.5,336.93 L197.55,337.43 L197.6,338.11 L197.65,338.79 L197.7,339.46 L197.75,340.24 L197.79,340.7 L197.84,341.15 L197.89,341.9 L197.94,342.41 L197.98,343.07 L198.03,343.49 L198.08,343.99 L198.12,344.47 L198.17,344.88 L198.22,345.14 L198.26,345.58 L198.31,345.92 L198.35,346.26 L198.4,346.27 L198.5,346.42 L198.59,346.47 L198.68,346.26 L198.78,345.99 L198.87,345.39 L198.96,344.72 L199.05,344.16 L199.14,343.42 L199.23,342.41 L199.32,341.65 L199.41,340.64 L199.5,339.96 L199.54,339.52 L199.58,339.16 L199.62,338.69 L199.66,338.24 L199.7,337.76 L199.74,337.3 L199.78,336.75 L199.82,336.12 L199.86,335.5 L199.9,335.19 L199.94,334.64 L199.98,333.88 L200.02,333.41 L200.06,332.63 L200.1,332.06 L200.14,331.63 L200.18,331.26 L200.22,330.47 L200.26,329.97 L200.3,329.71 L200.34,328.88 L200.38,328.68 L200.42,328.23 L200.46,327.75 L200.5,327.42 L200.6,326.83 L200.7,325.73 L200.79,325.18 L200.88,324.63 L200.98,324.09 L201.08,323.58 L201.19,323.47 L201.31,322.93 L201.45,322.34 L201.6,322.03 L201.84,321.57 L202.11,321.06 L202.4,320.41 L202.71,320.11 L203.03,319.74 L203.37,319.35 L203.7,318.94 L204.05,318.31 L204.43,318.27 L204.83,317.71 L205.22,317.49 L205.61,317.23 L205.97,316.59 L206.3,316.18 L206.76,315.89 L207.13,315.34 L207.51,314.97 L208,314.7 L208.51,314.9 L209.09,314.7 L209.71,314.69 L210.33,314.94 L210.9,315.08 L211.35,315.5 L211.8,315.84 L212.24,316.21 L212.66,316.79 L213.05,316.99 L213.4,317.27 L213.81,317.16 L214.12,316.54 L214.45,315.99 L214.9,315.72 L215.39,315.68 L215.95,315.54 L216.57,315.57 L217.19,315.61 L217.8,315.73 L218.31,315.87 L218.85,315.87 L219.39,316.06 L219.91,316.3 L220.39,316.43 L220.8,316.71 L221.26,317.2 L221.59,317.7 L221.88,318.07 L222.2,318.12 L222.42,318.13 L222.6,317.61 L222.79,316.84 L223.02,316.25 L223.31,315.92 L223.7,315.35 L224.03,314.89 L224.41,314.64 L224.84,314.01 L225.3,313.81 L225.77,313.55 L226.25,312.98 L226.72,312.84 L227.18,312.8 L227.6,312.71 L228.13,312.51 L228.66,312.7 L229.19,313.02 L229.7,313.06 L230.18,313.23 L230.62,313.6 L231,313.76 L231.64,314.21 L232.07,314.35 L232.5,314.72 L232.76,315.42 L233.03,315.61 L233.3,316.23 L233.56,316.8 L233.8,317.33 L234,317.72 L234.22,318.44 L234.38,319.06 L234.52,319.43 L234.7,319.68 L234.85,319.43 L235.01,318.92 L235.18,318.31 L235.36,317.56 L235.53,317.19 L235.7,316.86 L236.19,316.39 L236.7,317.2 L236.93,317.43 L237.18,317.59 L237.42,318.34 L237.67,318.83 L237.9,319.66 L237.98,320.05 L238.07,320.74 L238.15,321.34 L238.23,321.89 L238.31,322.6 L238.39,323.21 L238.47,323.91 L238.55,324.47 L238.62,325.13 L238.69,325.57 L238.76,326.09 L238.83,326.43 L238.9,326.53 L238.99,326.57 L239.06,326.41 L239.13,325.41 L239.2,324.96 L239.26,324.16 L239.33,323.4 L239.41,322.58 L239.5,322.08 L239.6,321.57 L239.88,320.79 L240.21,320.26 L240.55,319.85 L240.9,319.47 L241.34,319.95 L241.79,320.26 L242.3,320.51 L242.73,320.58 L243.2,320.3 L243.72,319.99 L244.3,320.29 L244.74,320.17 L245.23,320.53 L245.74,320.82 L246.27,321.23 L246.79,321.49 L247.3,321.62 L247.79,321.7 L248.29,321.87 L248.78,322.14 L249.27,322.35 L249.74,322.41 L250.2,322.54 L250.59,323.02 L250.98,323.3 L251.36,323.76 L251.73,324.24 L252.08,324.73 L252.4,324.99 L252.7,325.2 L253.11,325.1 L253.43,324.58 L253.73,323.64 L254.1,322.93 L254.29,322.72 L254.49,322.24 L254.69,321.96 L254.9,321.2 L255.12,320.64 L255.34,320.21 L255.58,319.7 L255.83,319.1 L256.1,318.75 L256.47,318.13 L256.87,317.74 L257.29,317.6 L257.72,317.01 L258.15,316.93 L258.58,316.59 L259,316.28 L259.43,315.94 L259.89,315.54 L260.35,314.91 L260.8,314.67 L261.21,314.4 L261.55,314.29 L261.8,314" stroke="#f57320" stroke-width="1.6" fill="none" stroke-linejoin="round" stroke-linecap="round"/>
<path d="M30.5,276.24 L30.85,276.12 L31.2,276.15 L31.55,275.96 L31.9,276 L32.25,275.9 L32.6,275.74 L32.95,275.77 L33.3,275.61 L33.65,275.66 L34,275.27 L34.35,275.22 L34.7,275.19 L35.05,274.83 L35.4,274.97 L35.75,274.75 L36.1,274.84 L36.45,274.55 L36.8,274.58 L37.15,274.43 L37.5,273.91 L37.85,274.19 L38.2,273.94 L38.55,273.44 L38.9,273.4 L39.25,273.58 L39.6,273.71 L39.95,273.92 L40.3,274.04 L40.65,273.25 L41,273.7 L41.35,274.1 L41.7,273.61 L42.05,273.47 L42.4,273.64 L42.75,273.35 L43.1,274.21 L43.45,273.74 L43.8,273.81 L44.15,274.19 L44.5,273.58 L44.85,273.33 L45.2,273.55 L45.55,273.85 L45.9,273.21 L46.25,273.52 L46.6,273.47 L46.95,273.17 L47.3,273.82 L47.65,273.09 L48,273.24 L48.35,273.13 L48.7,273.77 L49.05,273.11 L49.4,273.77 L49.75,273.89 L50.1,273.07 L50.45,273.11 L50.8,273.14 L51.15,273.6 L51.5,273.84 L51.5,278.4 L51.15,278.46 L50.8,278.56 L50.45,278.93 L50.1,278.92 L49.75,278.97 L49.4,278.77 L49.05,279.34 L48.7,279.45 L48.35,279 L48,278.86 L47.65,279.07 L47.3,279.1 L46.95,279.9 L46.6,279.08 L46.25,279.43 L45.9,279.23 L45.55,279.71 L45.2,279.52 L44.85,279.76 L44.5,279.32 L44.15,279.55 L43.8,279.63 L43.45,279.29 L43.1,279.57 L42.75,279.03 L42.4,279.38 L42.05,279.22 L41.7,278.97 L41.35,279.39 L41,279.18 L40.65,279.74 L40.3,279.35 L39.95,279.42 L39.6,279.14 L39.25,279.77 L38.9,278.93 L38.55,279.64 L38.2,278.97 L37.85,279.41 L37.5,278.78 L37.15,278.99 L36.8,279.01 L36.45,278.8 L36.1,278.7 L35.75,278.39 L35.4,277.89 L35.05,278.1 L34.7,277.89 L34.35,277.99 L34,277.68 L33.65,277.44 L33.3,277.61 L32.95,277.43 L32.6,277.29 L32.25,277.1 L31.9,277.04 L31.55,277.06 L31.2,276.95 L30.85,276.86 L30.5,276.71 Z" fill="#79b42a" stroke="#79b42a" stroke-width="0.6" stroke-linejoin="round"/>
<path d="M39.6,270.2 L39.6,282.9 M41.6,272.3 L41.6,281 M43.2,272.3 L43.2,280.3 M46.5,270.5 L46.5,281.5 M48.8,271.9 L48.8,280.1 " stroke="#79b42a" stroke-width="1.1" fill="none" stroke-linecap="round"/>
<path d="M51.5,274.83 L51.55,275.15 L51.61,275.4 L51.68,275.6 L51.76,276.24 L51.85,276.7 L51.95,277.2 L52.07,278.02 L52.2,278.84 L52.25,279.18 L52.31,279.53 L52.37,279.97 L52.43,280.24 L52.49,280.72 L52.55,281.13 L52.61,281.69 L52.68,282.11 L52.75,282.55 L52.82,283 L52.89,283.56 L52.97,284.11 L53.04,284.61 L53.12,285.31 L53.2,285.83 L53.28,286.02 L53.36,286.67 L53.44,287.42 L53.53,287.97 L53.61,288.63 L53.7,289.22 L53.76,289.85 L53.83,289.98 L53.9,290.52 L53.97,291.24 L54.03,291.58 L54.1,292.08 L54.18,292.46 L54.25,292.86 L54.32,293.56 L54.4,294.07 L54.47,294.47 L54.55,295.05 L54.62,295.65 L54.7,296.1 L54.78,296.72 L54.85,297.28 L54.93,297.81 L55.01,298.29 L55.09,298.94 L55.17,299.5 L55.25,299.97 L55.33,300.38 L55.41,301.05 L55.49,301.43 L55.58,302.07 L55.66,302.37 L55.74,303.05 L55.82,303.44 L55.9,303.78 L56,304.42 L56.1,305 L56.2,305.55 L56.3,305.95 L56.41,306.46 L56.51,307.11 L56.62,307.55 L56.72,308.13 L56.83,308.68 L56.94,308.93 L57.04,309.61 L57.15,310.2 L57.26,310.53 L57.36,310.96 L57.47,311.59 L57.58,312.01 L57.68,312.55 L57.79,312.89 L57.89,313.24 L58,313.84 L58.1,314.27 L58.2,314.86 L58.3,315.26 L58.4,315.54 L58.51,316.11 L58.62,316.84 L58.73,317.34 L58.84,317.73 L58.94,318.31 L59.05,318.88 L59.16,319.39 L59.26,319.94 L59.36,320.39 L59.47,320.85 L59.57,321.33 L59.67,321.96 L59.78,322.12 L59.88,322.81 L59.98,323.3 L60.08,323.62 L60.19,324.26 L60.29,324.62 L60.39,325.22 L60.5,325.56 L60.6,326.07 L60.75,326.72 L60.9,327.22 L61.05,327.68 L61.2,328.18 L61.35,329.07 L61.5,329.43 L61.66,329.91 L61.81,330.52 L61.96,330.99 L62.1,331.58 L62.25,331.96 L62.39,332.41 L62.53,332.76 L62.67,333.27 L62.8,333.5 L63.07,334.38 L63.33,335.06 L63.58,335.26 L63.83,335.59 L64.06,336.26 L64.28,336.77 L64.5,336.7 L65.16,337.29 L65.8,337.56 L66.26,337.42 L66.73,337.25 L67.3,336.37 L67.43,336.15 L67.57,335.71 L67.71,335.4 L67.86,334.94 L68.01,334.42 L68.16,334 L68.32,333.44 L68.48,333.01 L68.64,332.36 L68.8,331.81 L68.97,331.49 L69.13,330.76 L69.29,330.18 L69.45,329.64 L69.6,328.96 L69.71,328.55 L69.82,328.16 L69.93,327.68 L70.04,327.06 L70.15,326.77 L70.26,326.12 L70.37,325.57 L70.49,325.07 L70.6,324.6 L70.71,324.28 L70.82,323.47 L70.93,323.08 L71.04,322.33 L71.15,322.03 L71.26,321.61 L71.37,320.99 L71.47,320.46 L71.58,320.07 L71.69,319.65 L71.79,319.2 L71.9,318.9 L72.04,318.14 L72.19,317.51 L72.33,317.02 L72.46,316.51 L72.6,316.03 L72.74,315.53 L72.87,315.07 L73.01,314.42 L73.14,314.2 L73.28,313.6 L73.42,313.08 L73.56,312.8 L73.7,312.4 L73.85,311.84 L74,311.32 L74.15,310.71 L74.31,310.6 L74.47,309.91 L74.62,309.21 L74.79,308.76 L74.95,308.35 L75.11,307.69 L75.28,307.37 L75.44,306.81 L75.61,306.49 L75.79,305.97 L75.96,305.11 L76.14,304.89 L76.32,304.23 L76.5,304.01 L76.68,303.42 L76.87,302.97 L77.06,302.31 L77.25,302.11 L77.44,301.63 L77.63,300.83 L77.83,300.48 L78.02,299.88 L78.23,299.45 L78.43,298.83 L78.64,298.65 L78.85,297.88 L79.06,297.45 L79.28,297.04 L79.5,296.44 L79.71,296.01 L79.93,295.51 L80.15,295.07 L80.38,294.49 L80.6,294.07 L80.84,293.61 L81.07,293.12 L81.31,292.67 L81.54,292.17 L81.78,291.8 L82.02,291.24 L82.26,290.81 L82.5,290.33 L82.73,289.93 L82.97,289.45 L83.2,289.25 L83.53,288.57 L83.86,288.12 L84.19,287.76 L84.52,287.33 L84.84,286.84 L85.17,286.28 L85.5,286.14 L85.84,285.76 L86.18,285.24 L86.54,285.12 L86.9,284.63 L87.31,284.23 L87.74,284 L88.17,283.65 L88.61,283.38 L89.06,282.9 L89.51,282.96 L89.96,282.46 L90.41,282.11 L90.86,282.09 L91.3,281.76 L91.79,281.6 L92.28,281.32 L92.77,281.16 L93.26,281.02 L93.74,280.76 L94.23,280.76 L94.72,280.51 L95.21,280.34 L95.7,280.31 L96.25,280.22 L96.8,280.06 L97.35,279.91 L97.9,279.99 L98.45,279.69 L99,279.69 L99.55,279.71 L100.1,279.46 L100.58,279.49 L101.06,279.36 L101.53,279.33 L102,279.01 L102.47,278.91 L102.95,278.86 L103.45,278.44 L103.96,278.85 L104.5,278.33 L104.94,278.21 L105.37,278.25 L105.79,278.03 L106.21,277.73 L106.65,277.84 L107.11,277.73 L107.59,277.48 L108.12,277.38 L108.69,277.34 L109.31,277.1 L110,277.14 L110.41,277.07 L110.85,276.94 L111.3,276.83 L111.78,276.91 L112.27,276.81 L112.79,276.97 L113.31,276.85 L113.85,276.88 L114.39,276.79 L114.94,276.78 L115.5,276.65 L116.06,276.77 L116.62,276.85 L117.18,276.62 L117.74,276.57 L118.29,276.59 L118.84,276.53 L119.37,276.48 L119.89,276.54 L120.4,276.47 L120.93,276.62 L121.47,276.44 L122.01,276.45 L122.55,276.48 L123.09,276.33 L123.64,276.47 L124.18,276.24 L124.72,276.2 L125.25,276.21 L125.78,276.21 L126.3,276.06 L126.81,276.17 L127.31,275.98 L127.8,276.26 L128.28,276.09 L128.73,276.01 L129.17,275.96 L129.6,275.99 L130,275.98 L130.73,275.86 L131.41,275.86 L132.06,275.93 L132.66,275.9 L133.22,276.04 L133.73,276.04 L134.2,275.89 L134.62,275.88 L134.98,275.6 L135.3,275.66 L135.71,275.08 L135.85,274.37 L135.83,273.69 L135.78,272.72 L135.8,272.83 L135.86,272.92 L135.93,273.55 L135.99,273.98 L136.05,274.77 L136.11,275.56 L136.18,276.25 L136.24,276.71 L136.3,276.92 L136.11,276.8 L135.91,276.17 L136.8,275.5 L137.1,275.31 L137.45,275.54 L137.85,275.49 L138.3,275.54 L138.79,275.42 L139.31,275.55 L139.86,275.38 L140.43,275.57 L141.02,275.49 L141.62,275.63 L142.22,275.69 L142.83,275.55 L143.43,275.65 L144.02,275.69 L144.59,275.83 L145.14,275.81 L145.66,275.64 L146.15,275.82 L146.6,275.87 L147,276.01 L147.71,275.64 L148.31,275.77 L148.84,275.96 L149.32,275.7 L149.75,275.71 L150.16,275.88 L150.58,275.91 L151.01,275.72 L151.47,275.8 L152,275.71 L152.48,275.8 L152.97,275.59 L153.48,275.62 L153.99,275.36 L154.52,275.35 L155.05,275.27 L155.58,275.3 L156.12,275.15 L156.65,274.92 L157.18,274.97 L157.69,274.88 L158.2,274.69 L158.74,274.56 L159.29,274.44 L159.82,274.15 L160.36,274.19 L160.89,274.05 L161.42,273.8 L161.94,273.82 L162.47,273.48 L162.98,273.44 L163.49,273.34 L164,273.5 L164.57,273.06 L165.17,273.21 L165.77,273.2 L166.38,273.1 L166.97,273.14 L167.54,272.9 L168.06,272.76 L168.54,273.06 L168.96,272.87 L169.3,272.97 L169.72,273.1 L170,273.71 L170.37,273.78 L170.84,273.71 L171.39,273.96 L171.98,273.98 L172.59,274.07 L173.18,274.23 L173.73,274.37 L174.2,274.66 L174.66,274.9 L175.07,275.12 L175.45,275.58 L175.8,275.78 L176.14,276.28 L176.47,276.78 L176.8,277.45 L176.99,277.62 L177.18,278.26 L177.37,278.54 L177.56,278.97 L177.74,279.4 L177.91,280.03 L178.09,280.5 L178.26,280.9 L178.42,281.43 L178.58,282.01 L178.74,282.52 L178.9,283.21 L179.05,283.75 L179.2,284.22 L179.35,284.7 L179.49,285.16 L179.63,285.75 L179.76,286.38 L179.89,287.04 L180.02,287.45 L180.15,287.86 L180.27,288.41 L180.39,288.86 L180.5,289.32 L180.63,289.96 L180.76,290.57 L180.88,291.3 L180.99,291.68 L181.1,292.7 L181.21,293.37 L181.31,293.29 L181.41,294.3 L181.5,294.44 L181.6,294.45 L181.77,295.45 L181.92,296.03 L182.06,296.5 L182.21,296.94 L182.4,297.35 L183,297.25 L183.7,296.39 L184.23,297.13 L184.8,297.23 L185.3,297.89 L185.45,297.76 L185.59,297.23 L185.71,296.81 L185.83,296.37 L185.94,295.33 L186.06,294.84 L186.17,294.44 L186.3,293.95 L186.39,293.28 L186.48,293.54 L186.57,292.09 L186.66,291.93 L186.76,291.46 L186.85,290.4 L186.94,289.6 L187.04,288.91 L187.13,288.83 L187.22,288.64 L187.31,287.85 L187.4,287.36 L187.53,286.52 L187.65,286.23 L187.78,284.69 L187.9,284.96 L188.02,284.37 L188.15,283.4 L188.27,284.22 L188.4,282.61 L188.76,282.12 L189.14,281.82 L189.5,282.39 L190,281.32 L190.5,281.23 L190.68,280.79 L190.85,280.15 L191.03,279.01 L191.21,278.65 L191.4,278.88 L191.6,277.35 L191.91,276.81 L192.24,276.36 L192.57,276.19 L192.9,275.79 L193.22,276.07 L193.53,275.78 L193.85,277.13 L194.2,278 L194.3,277.58 L194.4,279.05 L194.5,279.73 L194.61,279.1 L194.72,279.86 L194.83,280.82 L194.94,280.33 L195.05,280.68 L195.16,281.46 L195.27,282.26 L195.38,282.81 L195.49,283.78 L195.59,284.22 L195.7,284.23 L195.8,285.4 L195.89,286.32 L195.98,286.56 L196.06,286.73 L196.15,287.12 L196.23,287.71 L196.32,288.01 L196.4,288.69 L196.48,289.11 L196.57,289.73 L196.65,290.17 L196.73,290.52 L196.81,291.15 L196.89,291.76 L196.97,292.02 L197.05,292.57 L197.12,293.04 L197.2,293.45 L197.29,294.27 L197.37,294.92 L197.45,295.53 L197.54,296.15 L197.62,296.81 L197.7,297.53 L197.78,298.11 L197.86,298.91 L197.94,299.53 L198.01,300.07 L198.09,300.41 L198.17,300.88 L198.25,301.18 L198.32,301.58 L198.4,301.52 L198.49,301.27 L198.58,301.32 L198.66,301.16 L198.75,300.62 L198.83,300.13 L198.92,299.45 L199,298.6 L199.09,297.93 L199.17,297.27 L199.26,296.65 L199.34,295.98 L199.42,295.32 L199.5,294.57 L199.56,294.23 L199.61,293.62 L199.67,293.07 L199.73,292.7 L199.78,291.98 L199.84,291.25 L199.89,290.85 L199.95,290.41 L200,289.52 L200.05,289.23 L200.11,288.68 L200.16,288.02 L200.22,287.47 L200.27,287.05 L200.33,286.53 L200.39,286.23 L200.44,285.67 L200.5,285.04 L200.59,284.44 L200.68,283.95 L200.77,283.45 L200.85,282.71 L200.94,282.14 L201.03,281.77 L201.12,281.08 L201.23,280.59 L201.34,280.04 L201.46,279.72 L201.6,279.62 L201.95,278.6 L202.34,278.28 L202.78,277.8 L203.23,277.65 L203.7,277.39 L204.11,276.94 L204.56,276.7 L205.03,276.36 L205.48,276.02 L205.91,275.88 L206.3,275.58 L206.89,275.21 L207.38,275.08 L208,275.12 L208.42,275.33 L208.89,275.37 L209.4,275.83 L209.92,275.93 L210.43,275.94 L210.9,276.17 L211.33,276.66 L211.73,276.66 L212.12,277.19 L212.51,277.7 L212.94,277.85 L213.4,278.15 L213.91,278.35 L214.44,278.58 L215.01,278.62 L215.59,278.7 L216.19,278.75 L216.8,278.7 L217.29,278.8 L217.82,278.58 L218.37,278.46 L218.93,278.37 L219.46,278.31 L219.97,278.33 L220.42,278.4 L220.8,278.22 L221.44,277.9 L221.79,277.55 L222.2,277.15 L222.48,276.83 L222.77,276.41 L223.07,275.89 L223.41,275.54 L223.78,275.27 L224.2,274.58 L224.61,274.49 L225.07,274.02 L225.56,273.98 L226.07,273.65 L226.59,273.31 L227.1,273.39 L227.6,273.48 L228.1,273.32 L228.63,273.51 L229.16,273.53 L229.68,273.5 L230.17,273.96 L230.61,274.07 L231,274.15 L231.51,274.65 L231.87,274.87 L232.17,275.14 L232.5,275.79 L232.72,276.02 L232.95,276.66 L233.18,277.04 L233.41,277.76 L233.63,278.15 L233.83,278.91 L234,279.23 L234.22,280.04 L234.38,280.47 L234.52,280.95 L234.7,281.18 L234.85,280.59 L235.01,280.29 L235.18,279.9 L235.36,279.21 L235.53,278.7 L235.7,278.17 L236.19,277.67 L236.7,277.63 L236.93,277.8 L237.18,278.11 L237.42,278.69 L237.67,279.32 L237.9,280.14 L237.98,280.26 L238.07,280.92 L238.15,281.65 L238.23,282.37 L238.31,282.95 L238.39,283.61 L238.47,284.13 L238.55,285.21 L238.62,285.48 L238.69,286.28 L238.76,286.68 L238.83,286.86 L238.9,286.94 L239,286.98 L239.08,286.52 L239.16,286.09 L239.23,285.35 L239.31,284.62 L239.39,283.89 L239.49,283.29 L239.6,282.56 L239.88,281.97 L240.21,281.18 L240.55,280.74 L240.9,280.54 L241.36,280.59 L241.82,281.22 L242.3,281.69 L242.68,282.13 L243.08,282.47 L243.46,282.92 L243.8,283.04 L244.24,282.48 L244.8,282.14 L245.2,282.27 L245.67,282.41 L246.2,282.94 L246.75,283.09 L247.3,283.58 L247.76,283.78 L248.24,284.01 L248.73,284.19 L249.22,284.63 L249.71,284.85 L250.2,285.22 L250.62,285.45 L251.05,285.72 L251.49,286.25 L251.92,286.61 L252.34,287.15 L252.73,287.49 L253.1,287.53 L253.56,287.31 L253.96,286.94 L254.34,286.48 L254.71,285.81 L255.1,285.61 L255.58,285.45 L256.04,285.36 L256.54,285.32 L257.1,285.12 L257.43,284.73 L257.79,284.35 L258.17,284.06 L258.56,283.53 L258.95,283.21 L259.33,282.53 L259.68,282.12 L260,282.19 L260.57,282.19 L261.08,282.34 L261.5,282.68 L261.8,283.1" stroke="#79b42a" stroke-width="1.6" fill="none" stroke-linejoin="round" stroke-linecap="round"/>
<line x1="30.5" y1="276" x2="30.5" y2="420.6" stroke="#8ca34e" stroke-width="1.2"/>
<line x1="30.5" y1="420.6" x2="30.5" y2="430.2" stroke="#f57320" stroke-width="1.2"/>
<line x1="362.4" y1="261.4" x2="362.4" y2="418.4" stroke="#2a2a2a" stroke-width="1.25" stroke-dasharray="4.7,4.25"/>
<line x1="369.4" y1="261.4" x2="369.4" y2="418.4" stroke="#2a2a2a" stroke-width="1.25" stroke-dasharray="4.7,4.25"/>
<line x1="404.0" y1="267.2" x2="404.0" y2="424.0" stroke="#2a2a2a" stroke-width="1.25" stroke-dasharray="4.7,4.25"/>
<line x1="508.2" y1="271.7" x2="508.2" y2="419.6" stroke="#2a2a2a" stroke-width="1.25" stroke-dasharray="4.7,4.25"/>
<path d="M301.6,284.81 L301.89,285.12 L302.25,285.06 L302.66,284.59 L303.11,284.61 L303.61,284.52 L304.14,284.75 L304.7,284.55 L305.29,284.71 L305.89,284.02 L306.5,284.83 L307.11,284.37 L307.72,284.52 L308.32,284.27 L308.9,284.17 L309.47,284.35 L310,284.41 L310.52,284.12 L311.03,284.1 L311.54,284.28 L312.04,283.86 L312.55,283.67 L313.05,284.13 L313.55,283.83 L314.06,283.49 L314.56,283.75 L315.07,283.81 L315.58,283.61 L316.09,283.51 L316.61,283.87 L317.13,284.06 L317.66,283.76 L318.2,283.61 L318.68,283.88 L319.17,283.94 L319.66,283.67 L320.16,283.86 L320.66,283.97 L321.17,283.64 L321.67,283.47 L322.18,283.75 L322.69,283.71 L323.21,283.9 L323.72,283.3 L324.23,283.44 L324.75,283.39 L325.26,283.16 L325.77,283.62 L326.28,283.72 L326.79,283.41 L327.3,283.95 L327.81,283.81 L328.32,283.78 L328.84,283.73 L329.36,283.88 L329.88,283.33 L330.4,283.83 L330.93,283.85 L331.45,283.28 L331.97,283.83 L332.49,283.71 L333,284 L333.51,283.72 L334.01,283.86 L334.51,283.99 L334.99,283.73 L335.47,284.15 L335.94,284.02 L336.4,284.22 L336.98,284.04 L337.54,284.52 L338.1,284.49 L338.65,284.38 L339.18,284.67 L339.71,284.93 L340.22,285.7 L340.73,283.96 L341.23,285.43 L341.72,285.32 L342.2,285.14 L342.68,284.77 L343.14,286.15 L343.6,284.91 L344.12,286.08 L344.63,286.66 L345.12,285.25 L345.6,286.15 L346.06,285.79 L346.52,286.85 L346.97,287.76 L347.4,288.26 L347.84,286.41 L348.26,287.33 L348.68,288.3 L349.1,289.07 L349.51,288.73 L349.92,288.41 L350.31,289.31 L350.7,289.48 L351.09,289.73 L351.46,289.81 L351.83,290.81 L352.2,291.16 L352.55,291.35 L352.91,291.7 L353.26,291.55 L353.6,292.43 L353.89,293.76 L354.18,293.41 L354.46,293.15 L354.74,295.12 L355.02,295.14 L355.29,296.47 L355.56,295.82 L355.83,296 L356.09,295.94 L356.34,297.94 L356.59,299.11 L356.83,297.72 L357.07,298.28 L357.3,299.43 L357.54,299.15 L357.78,299.97 L358.01,300.57 L358.23,301.24 L358.45,302 L358.66,302.27 L358.87,303.02 L359.07,303.2 L359.27,303.89 L359.46,303.74 L359.64,304.36 L359.82,305.33 L360,305.35 L360.36,306.34 L360.69,306.9 L360.99,307.57 L361.28,307.83 L361.55,308.19 L361.8,308.17 L362.42,308.36 L363,308.22 L363.44,308 L363.92,307.42 L364.5,307.16 L364.94,307.05 L365.44,306.88 L365.97,306.5 L366.47,305.95 L366.9,306.38 L367.46,306.76 L367.9,307.53 L368.3,307.94 L368.64,308.26 L368.94,308.85 L369.3,309.6 L369.49,309.06 L369.68,308.99 L369.89,308.63 L370.11,307.35 L370.35,307.04 L370.61,306.37 L370.9,305.64 L371.05,305.25 L371.2,304.74 L371.37,304.28 L371.54,303.37 L371.71,303.2 L371.9,302.53 L372.08,302.25 L372.27,301.39 L372.46,301.44 L372.65,301.02 L372.84,300.22 L373.04,299.72 L373.23,299.12 L373.41,298.37 L373.6,298.11 L373.87,297.35 L374.14,297.28 L374.41,296.54 L374.67,296.35 L374.94,294.83 L375.22,295.6 L375.5,294.27 L375.79,293.89 L376.09,293.83 L376.4,293.29 L376.81,293.41 L377.24,292.66 L377.69,292.17 L378.15,292.12 L378.61,293.14 L379.08,292.27 L379.54,291.41 L380,291.8 L380.4,290.69 L380.8,292.25 L381.2,290.14 L381.59,290.95 L381.99,290.68 L382.39,289.27 L382.79,289.91 L383.2,289.97 L383.6,289.36 L384.01,288.9 L384.42,288.89 L384.83,288.04 L385.24,287.73 L385.66,287.07 L386.07,287.11 L386.48,285.92 L386.89,286.62 L387.3,285.72 L387.82,285.28 L388.34,286.05 L388.85,286.83 L389.36,286.55 L389.87,285.92 L390.39,286.81 L390.9,286.45 L391.3,286.87 L391.7,287.27 L392.1,286.95 L392.49,287.92 L392.89,287.98 L393.29,288.47 L393.69,288.7 L394.1,289.14 L394.5,289.76 L394.79,290.56 L395.08,291.14 L395.38,291.11 L395.68,291.8 L395.98,291.89 L396.28,291.91 L396.58,292.87 L396.87,293.4 L397.16,293.63 L397.44,294.26 L397.71,294.77 L397.96,294.86 L398.2,295.13 L398.46,295.94 L398.71,296.41 L398.93,296.84 L399.15,297.64 L399.35,298.29 L399.55,298.23 L399.74,298.99 L399.93,299.55 L400.11,300.03 L400.3,300.67 L400.5,300.9 L400.64,301.62 L400.78,302.41 L400.92,302.6 L401.06,302.75 L401.2,303.58 L401.34,304.29 L401.48,304.61 L401.61,304.92 L401.75,305.99 L401.88,305.83 L402.01,306.8 L402.14,307.18 L402.26,307.38 L402.38,308.46 L402.49,308.68 L402.6,308.71 L402.78,309.86 L402.93,310.33 L403.07,310.68 L403.2,311.65 L403.32,312.48 L403.45,313.07 L403.59,313.32 L403.73,313.5 L403.9,313.62 L404.04,313.31 L404.19,313.39 L404.34,312.75 L404.5,312.31 L404.66,311.83 L404.83,310.83 L405,310.28 L405.17,310.19 L405.33,309.24 L405.49,308.45 L405.65,308.02 L405.8,307.28 L405.94,306.98 L406.08,306.25 L406.22,306.01 L406.35,305.06 L406.48,305.32 L406.61,304.38 L406.74,303.63 L406.87,303.5 L407,302.98 L407.13,302.62 L407.26,301.81 L407.4,301.7 L407.54,302 L407.68,300.25 L407.81,300.13 L407.95,299.43 L408.09,299.02 L408.23,297.98 L408.37,297.62 L408.51,297.49 L408.66,296.85 L408.8,296.77 L408.95,295.69 L409.1,295.44 L409.27,295.58 L409.44,294.12 L409.6,293.56 L409.76,293.26 L409.93,292.76 L410.1,292.5 L410.29,291.86 L410.5,291.2 L410.74,291.03 L411,291.26 L411.33,290.49 L411.66,289.09 L411.99,289.41 L412.36,288.92 L412.79,289.02 L413.3,288.56 L413.93,288.83 L414.7,288.33 L415.07,288.22 L415.46,287.93 L415.88,287.77 L416.32,287.76 L416.78,287.89 L417.26,287.59 L417.76,287.27 L418.27,287.58 L418.79,287.21 L419.33,287.05 L419.88,286.79 L420.44,286.77 L421.01,286.68 L421.59,286.08 L422.17,286.98 L422.75,286.82 L423.33,286.59 L423.92,286.88 L424.5,286.71 L424.96,286.69 L425.44,285.99 L425.92,286.56 L426.41,286.78 L426.9,287.08 L427.4,287.17 L427.9,287.11 L428.41,286.52 L428.93,286.31 L429.45,287.06 L429.97,286.99 L430.49,287.28 L431.02,287.08 L431.55,287.23 L432.08,286.87 L432.61,287.43 L433.14,287.27 L433.67,287.54 L434.19,287.63 L434.72,287.55 L435.25,287.72 L435.77,287.7 L436.29,287.94 L436.8,287.93 L437.31,287.71 L437.83,287.75 L438.35,288.38 L438.88,287.98 L439.41,288.3 L439.93,288.21 L440.46,288.03 L440.99,288.03 L441.52,288.31 L442.05,288.4 L442.58,288.54 L443.11,288.12 L443.63,288.34 L444.15,288.51 L444.67,288.98 L445.19,288.03 L445.7,288.77 L446.2,288.56 L446.7,288.83 L447.19,288.63 L447.68,288.86 L448.16,289.18 L448.64,288.89 L449.1,288.91 L449.68,288.89 L450.26,288.59 L450.84,288.89 L451.42,288.67 L452,288.48 L452.56,288.63 L453.13,288.53 L453.68,288.72 L454.22,288.46 L454.76,288.27 L455.28,288.7 L455.79,288.52 L456.29,288.52 L456.77,288.28 L457.23,288.03 L457.68,287.89 L458.11,287.85 L458.52,288.1 L458.9,287.83 L459.64,287.29 L460.31,287.49 L460.89,286.96 L461.41,287.18 L461.87,286.67 L462.29,286.5 L462.65,286.73 L462.99,286.6 L463.3,286.18 L463.88,287.2 L464.08,288.26 L464.3,287.63 L464.47,288.2 L464.61,287.08 L464.77,286.53 L465.05,286.02 L465.5,285.24 L465.85,285.74 L466.25,285.37 L466.7,284.91 L467.19,284.89 L467.71,284.46 L468.26,284.64 L468.83,284.85 L469.41,284.08 L470,284.29 L470.44,284.35 L470.89,284.49 L471.34,284.48 L471.79,283.94 L472.26,283.79 L472.74,284.01 L473.24,283.74 L473.76,283.69 L474.31,283.98 L474.87,284.08 L475.47,283.69 L476.1,283.55 L476.55,283.73 L477.04,283.12 L477.56,283.58 L478.11,283.33 L478.69,284.2 L479.27,283.79 L479.87,283.67 L480.47,283.6 L481.08,283.05 L481.67,283.88 L482.25,284.14 L482.81,283.58 L483.35,283.97 L483.87,284.01 L484.34,283.49 L484.78,284.15 L485.16,284.29 L485.5,284.06 L486.47,284.28 L486.84,284.88 L486.96,284.64 L487.2,285.22 L487.63,285.22 L488.06,284.17 L488.8,284.55 L489.18,284.25 L489.62,283.92 L490.11,284.53 L490.64,284.45 L491.2,284.96 L491.75,284.8 L492.3,285.61 L492.82,285.47 L493.3,286.09 L493.64,286.18 L493.96,286.66 L494.28,287.52 L494.6,287.79 L494.9,288.19 L495.21,288.52 L495.51,289.65 L495.8,290.03 L496.1,290.2 L496.4,290.69 L496.7,290.62 L497,290.75 L497.36,290.76 L497.71,290.83 L498.05,290.45 L498.38,289.72 L498.72,289.57 L499.07,289.05 L499.43,288.38 L499.8,288.16 L500.19,287.5 L500.6,287.37 L501.05,287.46 L501.54,287.33 L502.05,287.58 L502.58,287.17 L503.12,287.99 L503.65,287.66 L504.17,288.1 L504.65,288.14 L505.1,289.06 L505.5,289.72 L505.71,290.03 L505.9,290.41 L506.08,290.32 L506.25,291.09 L506.41,291.78 L506.56,292.31 L506.7,293.49 L506.83,293.93 L506.96,294.54 L507.09,295.31 L507.21,295.55 L507.34,296.13 L507.46,296.63 L507.59,297.41 L507.72,297.71 L507.86,298.01 L508,298.27 L508.19,297.65 L508.36,297.65 L508.53,297.48 L508.69,296.63 L508.85,296.26 L509.02,296 L509.19,295.34 L509.36,294.64 L509.55,293.71 L509.76,293.02 L509.98,292.8 L510.23,292 L510.5,291.88 L510.93,291.89 L511.4,291.37 L511.91,291.31 L512.45,291.55 L513.01,291.85 L513.59,291.99 L514.18,292.09 L514.79,292.34 L515.4,291.9 L515.87,292.14 L516.38,292.45 L516.9,292.25 L517.43,292.21 L517.98,292.31 L518.52,292.45 L519.07,292.7 L519.6,292.56 L520.12,292.93 L520.61,293.35 L521.07,292.93 L521.5,293.32 L522.12,293.09 L522.61,292.72 L523.03,292.89 L523.44,292.67 L523.9,293.08 L524.47,292.62 L525.2,293.33 L525.6,293.21 L526.05,292.65 L526.55,293.45 L527.09,293.75 L527.65,293.29 L528.24,293.87 L528.83,293.31 L529.43,293.96 L530.02,293.62 L530.6,294.3 L531.15,293.86 L531.66,293.78 L532.13,294.65 L532.55,295.22 L532.91,294.58 L533.2,294.8" stroke="#79b42a" stroke-width="1.9" fill="none" stroke-linejoin="round" stroke-linecap="round"/>
<path d="M301.6,334.6 L301.89,334.85 L302.25,334.75 L302.66,334.73 L303.11,334.92 L303.61,334.19 L304.14,334.3 L304.7,334.1 L305.29,334.37 L305.89,334.62 L306.5,334.33 L307.11,334.43 L307.72,333.8 L308.32,334.29 L308.9,334.01 L309.47,334.66 L310,334.42 L310.52,334.43 L311.03,334.17 L311.54,334.34 L312.04,334.36 L312.55,334.11 L313.05,334.09 L313.55,334.19 L314.06,334.08 L314.56,334.09 L315.07,334.18 L315.58,334.07 L316.09,334.45 L316.61,333.85 L317.13,334.45 L317.66,334.07 L318.2,334.06 L318.68,333.83 L319.17,334.1 L319.66,334.03 L320.16,334.09 L320.66,333.85 L321.17,333.95 L321.67,334.31 L322.18,333.9 L322.69,333.59 L323.21,333.91 L323.72,333.57 L324.23,333.69 L324.75,333.64 L325.26,333.34 L325.77,332.91 L326.28,333.27 L326.79,333.46 L327.3,333.2 L327.81,333.4 L328.32,333.52 L328.84,333.14 L329.36,333.58 L329.88,333.69 L330.4,333.56 L330.93,333.59 L331.45,333.59 L331.97,333.9 L332.49,333.41 L333,333.38 L333.51,333.56 L334.01,333.21 L334.51,333.08 L334.99,333.28 L335.47,333.63 L335.94,333.68 L336.4,333.22 L336.98,333.17 L337.54,333.6 L338.1,333.67 L338.65,333.75 L339.18,333.97 L339.71,334.15 L340.22,334.02 L340.73,334.29 L341.23,333.41 L341.72,333.44 L342.2,334.3 L342.68,334.63 L343.14,334.78 L343.6,334.83 L344.12,335.1 L344.63,335.29 L345.12,334.08 L345.6,334.86 L346.06,335.74 L346.52,336.06 L346.97,335.15 L347.4,336.88 L347.84,336.26 L348.26,336.64 L348.68,337.18 L349.1,337.71 L349.55,336.8 L349.99,338.42 L350.42,338.22 L350.84,338.05 L351.26,338.62 L351.66,337.89 L352.06,339.06 L352.46,339.86 L352.84,339.73 L353.22,340.32 L353.6,340.82 L353.91,341.29 L354.22,342.19 L354.53,342.01 L354.83,342.28 L355.13,343.14 L355.42,344.41 L355.71,343.51 L355.99,344.42 L356.26,343.72 L356.53,345.78 L356.79,345.85 L357.05,346.68 L357.3,346.37 L357.54,346.29 L357.78,347.84 L358.01,348.04 L358.23,348.15 L358.45,348.51 L358.66,349.52 L358.87,349.88 L359.07,351.08 L359.27,350.77 L359.46,351.28 L359.64,351.84 L359.82,351.88 L360,352.48 L360.27,353.72 L360.53,353.85 L360.77,354.27 L360.99,354.59 L361.21,355.51 L361.41,355.93 L361.61,356.17 L361.8,356.3 L362.42,357.01 L363,357 L363.43,356.45 L363.89,356.34 L364.5,355.47 L364.9,355.77 L365.37,356.2 L365.88,356.49 L366.39,356.5 L366.88,357.15 L367.3,357.56 L367.82,357.82 L368.26,358.22 L368.67,358.7 L369.1,358.6 L369.39,358 L369.67,357.89 L369.94,357.8 L370.23,356.63 L370.55,356.27 L370.9,355.4 L371.06,354.92 L371.24,354.49 L371.42,354.34 L371.6,353.94 L371.79,353.47 L371.99,352.54 L372.19,352.24 L372.39,352.08 L372.59,351.9 L372.8,351.25 L373,350.84 L373.2,350.5 L373.4,349.89 L373.6,348.55 L373.83,348.53 L374.05,347.6 L374.27,346.18 L374.5,346.06 L374.72,347.64 L374.94,345.39 L375.17,344.31 L375.4,344.77 L375.64,345.51 L375.89,344.25 L376.14,344.14 L376.4,343.45 L376.81,343.16 L377.24,343.62 L377.69,343.14 L378.15,342.49 L378.61,342.88 L379.08,342.83 L379.54,341.93 L380,341.95 L380.4,341.67 L380.8,340.88 L381.2,341.58 L381.59,340.54 L381.99,339.97 L382.39,339.06 L382.79,338.96 L383.2,340.16 L383.6,338.37 L384.01,338.89 L384.43,338.08 L384.86,338.17 L385.29,337.83 L385.72,336.68 L386.14,336.6 L386.54,336.5 L386.93,336.25 L387.3,335.98 L387.9,335.67 L388.45,336.19 L388.97,336.7 L389.48,336.47 L390,335.99 L390.44,336.77 L390.86,336.73 L391.29,337.12 L391.73,338.16 L392.19,337.51 L392.7,338.2 L392.9,338.28 L393.12,338.77 L393.33,339.06 L393.56,340 L393.79,340.09 L394.02,340.32 L394.25,341.4 L394.49,341.07 L394.73,342.11 L394.98,342.65 L395.22,343.05 L395.46,343.36 L395.7,343.92 L395.94,344.38 L396.17,345.18 L396.4,344.92 L396.59,345.81 L396.79,346.41 L396.98,346.68 L397.18,346.82 L397.38,347.67 L397.58,348.01 L397.78,348.87 L397.97,349.49 L398.17,349.64 L398.37,349.62 L398.56,350.54 L398.75,350.84 L398.94,351.73 L399.13,352.48 L399.31,352.62 L399.49,353.54 L399.66,353.9 L399.83,354.19 L400,354.28 L400.16,355.05 L400.32,355.17 L400.48,356.31 L400.64,356.6 L400.79,357.45 L400.94,357.72 L401.09,357.7 L401.23,358.89 L401.37,359.5 L401.51,360.21 L401.65,360.08 L401.78,360.61 L401.91,361.36 L402.03,361.57 L402.16,361.97 L402.27,362.5 L402.39,363.87 L402.5,363.48 L402.6,363.78 L402.78,364.67 L402.93,365.55 L403.07,366.64 L403.18,367.29 L403.29,367.92 L403.4,368.32 L403.51,368.8 L403.62,368.91 L403.75,368.83 L403.9,369.63 L403.99,368.86 L404.09,368.99 L404.19,368.34 L404.29,368.01 L404.39,367.55 L404.5,366.74 L404.61,366.53 L404.72,366.06 L404.83,365.57 L404.94,364.87 L405.06,364.38 L405.17,363.57 L405.28,362.87 L405.39,361.78 L405.49,361.57 L405.6,361.55 L405.7,360.69 L405.8,360.42 L405.94,359.57 L406.08,358.9 L406.22,359.05 L406.35,358.14 L406.48,357.94 L406.61,357.24 L406.74,356.58 L406.87,355.63 L407,355.75 L407.13,354.86 L407.26,354.19 L407.4,354.53 L407.52,353.92 L407.64,353.41 L407.75,352.75 L407.87,352.21 L407.99,351.79 L408.11,351.19 L408.23,350.64 L408.35,350.27 L408.47,348.95 L408.6,349.26 L408.72,348.38 L408.85,348.26 L408.97,347.86 L409.1,346.91 L409.26,346.76 L409.41,346.22 L409.56,345.32 L409.7,344.85 L409.85,344.51 L410,343.45 L410.17,343.44 L410.35,343.15 L410.54,342.57 L410.76,341.88 L411,341.81 L411.3,341.85 L411.58,341.42 L411.87,340.7 L412.19,340.2 L412.54,340.1 L412.95,339.82 L413.43,339.37 L414.01,339.19 L414.7,339.16 L415.05,339.11 L415.42,338.15 L415.82,338.88 L416.23,338.55 L416.66,338.69 L417.11,338.28 L417.58,338.28 L418.06,338.47 L418.56,337.21 L419.06,338.25 L419.58,337.8 L420.11,337.19 L420.64,336.89 L421.18,337.54 L421.73,337.12 L422.28,337.54 L422.84,337.26 L423.39,337.1 L423.95,337.31 L424.5,337.05 L424.96,337.14 L425.44,337.11 L425.92,336.94 L426.41,337.02 L426.9,336.98 L427.4,336.4 L427.9,336.65 L428.41,336.66 L428.93,336.56 L429.45,336.24 L429.97,336.47 L430.49,336.68 L431.02,336.63 L431.55,336.94 L432.08,336.4 L432.61,336.43 L433.14,336.38 L433.67,336.44 L434.19,336.36 L434.72,336.04 L435.25,336.59 L435.77,336.75 L436.29,336.78 L436.8,336.23 L437.31,336.46 L437.82,336.97 L438.33,336.5 L438.84,336.63 L439.34,336.53 L439.85,336.85 L440.35,336.87 L440.86,337.24 L441.36,336.81 L441.87,336.84 L442.37,336.46 L442.88,336.69 L443.39,336.65 L443.9,336.78 L444.41,336.57 L444.92,337.23 L445.43,336.69 L445.95,337.04 L446.47,336.67 L446.99,337.09 L447.51,337.43 L448.04,336.81 L448.57,337.1 L449.1,336.98 L449.6,337.05 L450.13,337.06 L450.67,336.76 L451.22,336.84 L451.79,336.69 L452.37,336.58 L452.95,336.42 L453.54,336.91 L454.13,336.42 L454.72,336.7 L455.32,336.61 L455.9,336.15 L456.49,336.59 L457.06,336.05 L457.63,336.36 L458.18,336.5 L458.71,335.9 L459.23,335.79 L459.73,335.73 L460.21,336.49 L460.67,335.79 L461.09,335.53 L461.49,336.03 L461.86,335.76 L462.2,335.79 L462.5,335.55 L463.68,335.53 L463.91,336.45 L463.77,336.91 L463.8,336.99 L463.88,336.91 L463.79,336.45 L464.01,336.31 L465,335.77 L465.3,335.65 L465.64,335.31 L466.02,335.05 L466.43,335.35 L466.88,335.31 L467.35,335.37 L467.84,335.03 L468.36,334.92 L468.9,334.95 L469.45,334.56 L470.01,334.51 L470.58,334.79 L471.16,334.25 L471.74,334.47 L472.32,334.62 L472.9,334.42 L473.47,334.41 L474.03,333.97 L474.57,334.17 L475.1,334.09 L475.61,334.28 L476.1,334.2 L476.65,334.08 L477.2,334.53 L477.75,334.18 L478.29,333.96 L478.83,333.88 L479.37,334.03 L479.91,333.9 L480.44,334.46 L480.97,334.22 L481.49,334.02 L482.01,333.96 L482.52,333.89 L483.03,334.13 L483.53,334.57 L484.02,334.49 L484.5,334.32 L484.98,334.42 L485.44,333.98 L485.9,334.7 L486.47,334.54 L487.03,335.03 L487.58,334.74 L488.12,334.77 L488.66,335.06 L489.18,334.97 L489.69,335.59 L490.19,335.46 L490.67,335.62 L491.14,335.76 L491.6,335.75 L492.05,336.12 L492.48,336.21 L492.9,336.77 L493.3,336.53 L493.82,336.88 L494.3,337.01 L494.76,337.4 L495.18,337.82 L495.59,338.62 L495.97,338.71 L496.34,339.29 L496.69,339.31 L497.03,339.55 L497.37,339.34 L497.7,340.13 L498.18,340.36 L498.58,339.49 L498.94,339.45 L499.3,338.8 L499.67,337.92 L500.09,337.9 L500.6,337.3 L501.02,337.41 L501.49,337.77 L502,337.51 L502.53,337.22 L503.08,337.96 L503.62,337.47 L504.14,337.91 L504.64,338.14 L505.1,338.54 L505.5,338.81 L505.71,338.95 L505.9,340.24 L506.08,340.03 L506.25,340.59 L506.41,340.79 L506.56,342.05 L506.7,342.99 L506.83,343.66 L506.96,344.65 L507.09,344.95 L507.21,345.27 L507.34,345.72 L507.46,346.56 L507.59,346.62 L507.72,347.01 L507.86,346.96 L508,347.35 L508.19,347.81 L508.36,347.09 L508.51,346.83 L508.66,345.62 L508.8,345.95 L508.95,345.03 L509.12,344.59 L509.31,343.59 L509.54,342.65 L509.81,341.93 L510.12,341.9 L510.5,341.41 L510.88,340.96 L511.31,341.02 L511.79,340.74 L512.31,340.97 L512.85,340.62 L513.42,340.37 L514,340.62 L514.59,340.5 L515.17,341.01 L515.75,340.53 L516.31,340.34 L516.84,340.67 L517.34,340.63 L517.8,340.76 L518.42,340.76 L518.94,340.49 L519.4,340.8 L519.84,340.87 L520.27,340.68 L520.74,340.94 L521.28,341.24 L521.92,340.89 L522.7,341.12 L523.09,341.31 L523.52,341.45 L524,341.65 L524.5,341.23 L525.04,341.69 L525.6,341.83 L526.17,342.11 L526.76,341.68 L527.36,341.61 L527.96,341.51 L528.55,342.09 L529.14,342.33 L529.71,341.89 L530.27,342.22 L530.8,342.38 L531.3,342.45 L531.77,342.15 L532.2,342.46 L532.59,342.32 L532.92,342.13 L533.2,342.4" stroke="#f57320" stroke-width="1.9" fill="none" stroke-linejoin="round" stroke-linecap="round"/>
<path d="M301.6,380.36 L301.89,379.12 L302.25,380.11 L302.66,379.87 L303.11,380.16 L303.61,379.9 L304.14,380.23 L304.7,379.76 L305.29,379.59 L305.89,379.83 L306.5,379.77 L307.11,379.54 L307.72,379.54 L308.32,379.75 L308.9,379.72 L309.47,379.4 L310,379.41 L310.52,379.03 L311.03,379.88 L311.54,379.39 L312.04,379.77 L312.55,379.52 L313.05,379.89 L313.55,379.78 L314.06,379.46 L314.56,379.74 L315.07,379.11 L315.58,379.65 L316.09,378.94 L316.61,379.38 L317.13,379.53 L317.66,379.29 L318.2,379.11 L318.68,378.96 L319.17,379.03 L319.66,379.33 L320.16,379.23 L320.66,378.88 L321.17,378.57 L321.67,378.98 L322.18,378.38 L322.69,378.54 L323.21,378.43 L323.72,378.73 L324.23,378.55 L324.75,378.55 L325.26,378.46 L325.77,378.18 L326.28,378.46 L326.79,378.66 L327.3,378.29 L327.81,378.46 L328.32,378.28 L328.84,378.59 L329.36,378.53 L329.88,378.61 L330.4,378.52 L330.93,378.89 L331.45,378.44 L331.97,378.5 L332.49,378.49 L333,378.85 L333.51,378.61 L334.01,378.67 L334.51,379.09 L334.99,379.27 L335.47,379.19 L335.94,378.45 L336.4,378.96 L336.98,379.03 L337.54,379.1 L338.1,379.4 L338.65,380.07 L339.18,379.65 L339.71,379.66 L340.22,380.35 L340.73,380.13 L341.23,380.29 L341.72,379.99 L342.2,380.51 L342.68,380.91 L343.14,379.78 L343.6,380.11 L344.12,381.8 L344.63,381.89 L345.12,381.37 L345.6,381.32 L346.06,382.03 L346.52,381.72 L346.97,382.46 L347.4,383.82 L347.84,383.27 L348.26,384.13 L348.68,383.67 L349.1,384.3 L349.51,385.18 L349.92,384 L350.31,384.87 L350.7,385.31 L351.09,385.89 L351.46,386.94 L351.83,386.83 L352.2,386.02 L352.55,387.1 L352.91,387.18 L353.26,387.62 L353.6,389.71 L353.86,388.4 L354.11,389.51 L354.36,389.41 L354.6,390.72 L354.85,390.9 L355.09,391.24 L355.33,391.61 L355.56,392.76 L355.79,392.11 L356.02,392.71 L356.24,392.98 L356.46,394.81 L356.68,394.39 L356.89,394.44 L357.1,395.23 L357.3,397.27 L357.54,396.37 L357.78,397.43 L358,397.61 L358.22,398.02 L358.43,398.38 L358.64,398.99 L358.84,399.5 L359.04,399.53 L359.24,401.21 L359.43,401.26 L359.62,401.51 L359.81,401.85 L360,402.1 L360.3,403.16 L360.58,403.48 L360.86,404.21 L361.12,404.27 L361.39,405.16 L361.65,405.95 L361.92,405.66 L362.2,406.1 L362.65,405.88 L363.11,405.79 L363.57,405.26 L364.03,404.49 L364.5,403.96 L365.09,403.88 L365.68,403.58 L366.28,403.29 L366.9,403.61 L367.33,403.85 L367.76,403.94 L368.21,404.63 L368.65,405.84 L369.08,405.6 L369.5,405.42 L369.77,405.85 L370.02,404.82 L370.27,403.94 L370.52,403.63 L370.77,403.22 L371.01,403.13 L371.27,402.75 L371.53,401.4 L371.8,401.68 L372.01,400.31 L372.22,400.69 L372.42,400.34 L372.63,399.85 L372.85,399.12 L373.06,398.72 L373.28,397.51 L373.51,397.8 L373.75,397.72 L373.99,397.23 L374.24,397.73 L374.5,396.5 L374.83,395.85 L375.19,395.94 L375.57,394.76 L375.96,393.53 L376.35,392.64 L376.74,394.22 L377.13,393.5 L377.51,393.34 L377.87,392.4 L378.2,392.49 L378.72,392.94 L379.21,391.79 L379.67,390.74 L380.1,390.87 L380.51,391.6 L380.9,389.9 L381.25,388.66 L381.57,388.34 L381.86,388.36 L382.13,389.04 L382.41,388.17 L382.7,387.28 L383.04,386.59 L383.37,386.92 L383.71,386.59 L384.08,386.03 L384.5,385.77 L384.8,385.12 L385.13,386.09 L385.48,383.32 L385.84,384.19 L386.21,383.09 L386.58,383.6 L386.95,382.73 L387.3,382.8 L387.85,382.68 L388.39,382.44 L388.92,382.95 L389.46,381.81 L390,383.32 L390.44,382.88 L390.86,383.44 L391.29,384.37 L391.73,384.5 L392.19,384.86 L392.7,384.44 L392.93,385.08 L393.18,385.9 L393.43,385.73 L393.69,386.35 L393.95,387.22 L394.22,387.43 L394.49,387.42 L394.77,388.24 L395.04,388.77 L395.32,389.14 L395.6,389.63 L395.87,390.25 L396.14,390.42 L396.4,391.43 L396.57,391.56 L396.73,392.33 L396.9,392.79 L397.07,392.93 L397.24,393.78 L397.42,394.22 L397.59,394.63 L397.76,395.34 L397.93,395.61 L398.1,396.15 L398.27,396.78 L398.44,397.28 L398.6,398.12 L398.77,397.77 L398.93,398.82 L399.09,398.92 L399.25,399.8 L399.41,400.5 L399.56,400.92 L399.71,401.64 L399.86,401.93 L400,401.61 L400.19,402.59 L400.38,403.83 L400.57,404.4 L400.75,404.58 L400.93,404.71 L401.11,406.17 L401.28,405.62 L401.44,406.73 L401.61,407.13 L401.76,407.68 L401.92,407.79 L402.06,408.43 L402.21,409.23 L402.34,409.26 L402.48,409.45 L402.6,410.18 L402.82,410.99 L403,411.75 L403.16,412.38 L403.29,413.43 L403.43,413.86 L403.56,414.03 L403.72,414.59 L403.9,414.47 L404.01,414.36 L404.13,413.65 L404.25,413.57 L404.37,413.49 L404.5,413.15 L404.63,412.5 L404.76,411.91 L404.9,411.47 L405.03,410.92 L405.17,410.49 L405.3,409.52 L405.43,408.62 L405.56,408.24 L405.68,407.01 L405.8,406.91 L405.89,406.33 L405.97,405.96 L406.06,405.6 L406.14,404.98 L406.22,404.08 L406.3,403.82 L406.38,403.17 L406.46,402.82 L406.53,402.37 L406.61,401.49 L406.69,401.37 L406.77,400.97 L406.84,400.05 L406.92,399.77 L407,398.71 L407.08,398.45 L407.16,398.35 L407.24,397.2 L407.32,397.08 L407.4,396.57 L407.54,396.45 L407.68,395.86 L407.81,394.88 L407.95,394.56 L408.09,393.39 L408.23,393.81 L408.37,393.24 L408.51,393.06 L408.66,391.71 L408.8,391.97 L408.95,391.36 L409.1,390.35 L409.25,390.32 L409.38,389.95 L409.49,389.65 L409.6,388.98 L409.71,388.28 L409.83,388.02 L409.98,387.4 L410.17,386.81 L410.39,386.29 L410.66,386.19 L411,385.84 L411.33,386 L411.71,385.19 L412.11,385.5 L412.55,385.01 L413.02,385.05 L413.51,384.39 L414.02,384.27 L414.54,384.29 L415.07,384.47 L415.61,384.18 L416.14,384.22 L416.68,384 L417.2,384.06 L417.68,383.74 L418.14,383.45 L418.6,383.61 L419.06,383.4 L419.52,383.72 L419.99,383.15 L420.47,383.13 L420.96,382.95 L421.48,383.23 L422.02,383.09 L422.59,382.96 L423.19,382.42 L423.82,382.28 L424.5,382.67 L424.92,382.74 L425.37,382.9 L425.85,382.04 L426.35,382.41 L426.86,381.99 L427.4,382.13 L427.94,382.28 L428.5,382.53 L429.07,382.12 L429.65,382.04 L430.22,382.11 L430.8,382.47 L431.38,382.73 L431.95,381.72 L432.51,382.01 L433.06,381.96 L433.6,382.34 L434.13,382.15 L434.63,382.42 L435.12,381.78 L435.58,382.05 L436.02,381.94 L436.42,381.8 L436.8,382.06 L437.61,381.91 L438.31,382.93 L438.93,382.71 L439.47,382.6 L439.94,382.97 L440.35,383.81 L440.73,383.49 L441.07,383.98 L441.39,384.09 L441.7,384.27 L442.17,383.95 L442.27,383.21 L442.42,382.56 L443,381.96 L443.32,382.38 L443.65,382.46 L444.02,382.4 L444.41,382.55 L444.83,382.39 L445.29,383.35 L445.8,382.8 L446.35,382.78 L446.95,382.99 L447.61,383.18 L448.32,383.47 L449.1,382.69 L449.49,383.42 L449.92,383.13 L450.39,383.22 L450.88,383.49 L451.4,383.39 L451.94,382.99 L452.5,383.1 L453.08,383.54 L453.67,383.36 L454.27,383.19 L454.88,382.92 L455.49,383.1 L456.1,382.91 L456.71,382.62 L457.31,382.45 L457.9,382.78 L458.47,382.69 L459.03,382.85 L459.57,382.39 L460.08,382.83 L460.57,382.35 L461.03,382.73 L461.46,382.54 L461.85,382.25 L462.19,382.16 L462.5,382.37 L463.68,382.64 L463.91,383.49 L463.77,383.61 L463.8,383.63 L463.93,383.79 L463.94,383.79 L464.18,383.14 L465,382.05 L465.31,382.02 L465.66,382.06 L466.05,381.69 L466.47,381.67 L466.92,381.54 L467.4,381.22 L467.9,381.21 L468.42,381.12 L468.97,381.17 L469.53,380.7 L470.1,380.91 L470.68,380.54 L471.26,380.48 L471.85,380.32 L472.44,381.52 L473.02,380.77 L473.6,380.74 L474.08,380.57 L474.59,380.28 L475.12,380.33 L475.67,380.37 L476.23,380.39 L476.81,380.42 L477.4,380.65 L477.99,379.53 L478.59,380.13 L479.18,380.45 L479.77,380.21 L480.34,380.27 L480.91,380.71 L481.46,380.4 L481.98,380.83 L482.48,380.4 L482.96,380.51 L483.4,380.21 L483.81,380.02 L484.17,380.45 L484.5,380.62 L485.59,380.88 L485.98,381.15 L486.07,382.13 L486.3,382.22 L486.62,382.02 L486.86,381.36 L487.24,381.53 L488,381.37 L488.35,381.14 L488.77,381.12 L489.24,381.33 L489.75,381.83 L490.3,382.27 L490.87,381.75 L491.45,381.84 L492.02,381.7 L492.59,383.07 L493.13,382.33 L493.63,383.05 L494.1,383.19 L494.5,383.63 L495,383.47 L495.44,383.74 L495.82,384.7 L496.17,385.29 L496.48,385.99 L496.78,385.75 L497.07,386.45 L497.38,386.79 L497.7,386.66 L498.11,386.88 L498.49,386.79 L498.86,386.09 L499.23,385.19 L499.63,385.12 L500.08,384.86 L500.6,384.63 L500.98,384.71 L501.4,384.14 L501.86,384.74 L502.34,384.88 L502.83,384.79 L503.32,385.08 L503.81,385.15 L504.28,385.97 L504.73,385.96 L505.14,386.24 L505.5,387.05 L505.68,387.37 L505.85,387.93 L506.01,388.03 L506.15,388.59 L506.29,389.42 L506.43,390.49 L506.55,390.67 L506.67,390.85 L506.79,391.88 L506.9,392.29 L507.01,392.65 L507.12,393.55 L507.22,394.16 L507.33,394.96 L507.43,395.68 L507.54,396.07 L507.65,396.36 L507.76,396.35 L507.88,396.72 L508,396.79 L508.17,397.16 L508.32,396.47 L508.45,396.17 L508.57,396.22 L508.7,395.43 L508.82,394.54 L508.95,394.01 L509.09,393.3 L509.25,392.6 L509.44,392.08 L509.65,391.35 L509.89,390.68 L510.17,390.17 L510.5,389.57 L510.88,389.71 L511.32,389.99 L511.8,389.71 L512.33,389.49 L512.88,389.64 L513.46,389.56 L514.04,389.96 L514.64,390.51 L515.22,390.6 L515.8,390.58 L516.35,390.61 L516.88,390.48 L517.36,390.32 L517.8,390.7 L518.43,390.67 L518.9,391.06 L519.29,390.96 L519.66,390.85 L520.05,391.18 L520.53,391.89 L521.16,391.04 L522,391.69 L522.38,391.61 L522.8,391.5 L523.26,391.41 L523.76,391.68 L524.29,391.81 L524.85,392.03 L525.43,392.11 L526.03,392.1 L526.64,391.94 L527.25,392.28 L527.86,392.18 L528.47,392.13 L529.07,392.7 L529.66,392.4 L530.22,392.35 L530.76,392.76 L531.27,392.33 L531.75,392.87 L532.19,393.06 L532.58,392.9 L532.92,393.12 L533.2,393.1" stroke="#3c62d4" stroke-width="1.9" fill="none" stroke-linejoin="round" stroke-linecap="round"/>
<text x="39" y="34.2" font-size="33.5" fill="#000" text-anchor="start" >a</text>
<text x="311" y="34.9" font-size="32" fill="#000" text-anchor="start" >b</text>
<text x="38.7" y="265.1" font-size="33.5" fill="#000" text-anchor="start" >c</text>
<text x="310.3" y="268.6" font-size="32" fill="#000" text-anchor="start" >d</text>
<text transform="translate(30.3,210) scale(1,1.05)" font-size="12.4" fill="#000" text-anchor="middle" >5</text>
<text transform="translate(76.54,210) scale(1,1.05)" font-size="12.4" fill="#000" text-anchor="middle" >10</text>
<text transform="translate(122.78,210) scale(1,1.05)" font-size="12.4" fill="#000" text-anchor="middle" >15</text>
<text transform="translate(169.02,210) scale(1,1.05)" font-size="12.4" fill="#000" text-anchor="middle" >20</text>
<text transform="translate(215.26,210) scale(1,1.05)" font-size="12.4" fill="#000" text-anchor="middle" >25</text>
<text transform="translate(261.5,210) scale(1,1.05)" font-size="12.4" fill="#000" text-anchor="middle" >30</text>
<text transform="translate(321.6,210) scale(1,1.05)" font-size="12.4" fill="#000" text-anchor="middle" >750</text>
<text transform="translate(367.6,210) scale(1,1.05)" font-size="12.4" fill="#000" text-anchor="middle" >1000</text>
<text transform="translate(413.6,210) scale(1,1.05)" font-size="12.4" fill="#000" text-anchor="middle" >1250</text>
<text transform="translate(459.6,210) scale(1,1.05)" font-size="12.4" fill="#000" text-anchor="middle" >1500</text>
<text transform="translate(505.6,210) scale(1,1.05)" font-size="12.4" fill="#000" text-anchor="middle" >1750</text>
<text transform="translate(30.5,445) scale(1,1.05)" font-size="12.4" fill="#000" text-anchor="middle" >4000</text>
<text transform="translate(62.64,445) scale(1,1.05)" font-size="12.4" fill="#000" text-anchor="middle" >3500</text>
<text transform="translate(94.78,445) scale(1,1.05)" font-size="12.4" fill="#000" text-anchor="middle" >3000</text>
<text transform="translate(126.92,445) scale(1,1.05)" font-size="12.4" fill="#000" text-anchor="middle" >2500</text>
<text transform="translate(159.06,445) scale(1,1.05)" font-size="12.4" fill="#000" text-anchor="middle" >2000</text>
<text transform="translate(191.2,445) scale(1,1.05)" font-size="12.4" fill="#000" text-anchor="middle" >1500</text>
<text transform="translate(223.34,445) scale(1,1.05)" font-size="12.4" fill="#000" text-anchor="middle" >1000</text>
<text transform="translate(255.48,445) scale(1,1.05)" font-size="12.4" fill="#000" text-anchor="middle" >500</text>
<text transform="translate(301.3,445) scale(1,1.05)" font-size="12.4" fill="#000" text-anchor="middle" >2000</text>
<text transform="translate(334.47,445) scale(1,1.05)" font-size="12.4" fill="#000" text-anchor="middle" >1800</text>
<text transform="translate(367.64,445) scale(1,1.05)" font-size="12.4" fill="#000" text-anchor="middle" >1600</text>
<text transform="translate(400.82,445) scale(1,1.05)" font-size="12.4" fill="#000" text-anchor="middle" >1400</text>
<text transform="translate(433.99,445) scale(1,1.05)" font-size="12.4" fill="#000" text-anchor="middle" >1200</text>
<text transform="translate(467.16,445) scale(1,1.05)" font-size="12.4" fill="#000" text-anchor="middle" >1000</text>
<text transform="translate(500.33,445) scale(1,1.05)" font-size="12.4" fill="#000" text-anchor="middle" >800</text>
<text transform="translate(533.5,445) scale(1,1.05)" font-size="12.4" fill="#000" text-anchor="middle" >600</text>
<text x="146.4" y="232.6" font-size="16.1" fill="#000" text-anchor="middle" >2 Theta (degree)</text>
<text x="412" y="232.7" font-size="16.1" fill="#000" text-anchor="middle" >Raman Shift (cm<tspan font-size="9.5" dy="-6">-1</tspan><tspan dy="6">)</tspan></text>
<text x="146.3" y="467.6" font-size="16.1" fill="#000" text-anchor="middle" >Wavenumber (cm<tspan font-size="9.5" dy="-6">-1</tspan><tspan dy="6">)</tspan></text>
<text x="417.6" y="467" font-size="16.1" fill="#000" text-anchor="middle" >Wavenumber (cm<tspan font-size="9.5" dy="-6">-1</tspan><tspan dy="6">)</tspan></text>
<text x="16.95" y="96.9" font-size="15.9" text-anchor="middle" transform="rotate(-90 16.95 96.9)">Intensity (a.u.)</text>
<text x="284.85" y="96.9" font-size="15.9" text-anchor="middle" transform="rotate(-90 284.85 96.9)">Intensity (a.u.)</text>
<text x="15.75" y="330" font-size="15.9" text-anchor="middle" transform="rotate(-90 15.75 330)">Transmittance (%)</text>
<text x="287.25" y="330" font-size="15.9" text-anchor="middle" transform="rotate(-90 287.25 330)">Transmittance (%)</text>
<text transform="translate(195,63.4) scale(1,1.04)" font-size="10.9" fill="#3c62d4" text-anchor="start" >NiFe-MOF-4</text>
<text transform="translate(194.7,112.4) scale(1,1.04)" font-size="10.9" fill="#f57320" text-anchor="start" >NiFe-MOF-8</text>
<text transform="translate(193.8,155.7) scale(1,1.04)" font-size="10.9" fill="#79b42a" text-anchor="start" >NiFe-MOF-12</text>
<text transform="translate(301.6,63.6) scale(1,1.04)" font-size="10.9" fill="#79b42a" text-anchor="start" >NiFe-MOF-12</text>
<text transform="translate(301.6,116.1) scale(1,1.04)" font-size="10.9" fill="#f57320" text-anchor="start" >NiFe-MOF-8</text>
<text transform="translate(301.6,159.6) scale(1,1.04)" font-size="10.9" fill="#3c62d4" text-anchor="start" >NiFe-MOF-4</text>
<text transform="translate(101.6,291.6) scale(1,1.04)" font-size="10.9" fill="#79b42a" text-anchor="start" >NiFe-MOF-12</text>
<text transform="translate(102,330.3) scale(1,1.04)" font-size="10.9" fill="#f57320" text-anchor="start" >NiFe-MOF-8</text>
<text transform="translate(103.4,369.1) scale(1,1.04)" font-size="10.9" fill="#3c62d4" text-anchor="start" >NiFe-MOF-4</text>
<text transform="translate(422.8,300.6) scale(1,1.04)" font-size="10.9" fill="#79b42a" text-anchor="start" >NiFe-MOF-12</text>
<text transform="translate(425.2,350.7) scale(1,1.04)" font-size="10.9" fill="#f57320" text-anchor="start" >NiFe-MOF-8</text>
<text transform="translate(428.5,397.4) scale(1,1.04)" font-size="10.9" fill="#3c62d4" text-anchor="start" >NiFe-MOF-4</text>
<text x="322.8" y="327.7" font-size="8" fill="#111">1618 cm<tspan font-size="5.2" dy="-3.2">-1</tspan></text>
<text x="410" y="280.9" font-size="8" fill="#111">1382 cm<tspan font-size="5.2" dy="-3.2">-1</tspan></text>
<text x="370.6" y="376" font-size="8" fill="#111">1589 cm<tspan font-size="5.2" dy="-3.2">-1</tspan></text>
<text x="476.2" y="369" font-size="8" fill="#111">752 cm<tspan font-size="5.2" dy="-3.2">-1</tspan></text>
</svg></body></html>
